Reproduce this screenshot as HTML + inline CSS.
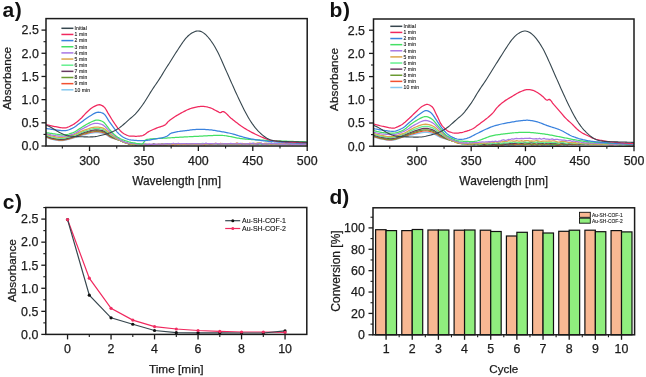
<!DOCTYPE html>
<html><head><meta charset="utf-8"><style>
html,body{margin:0;padding:0;background:#fff;}
svg{display:block;font-family:"Liberation Sans", sans-serif;filter:blur(0.3px);}
</style></head><body>
<svg width="646" height="377" viewBox="0 0 646 377">
<rect width="646" height="377" fill="#fff"/>
<clipPath id="clipa"><rect x="46.0" y="18.6" width="261.2" height="127.4"/></clipPath>
<g clip-path="url(#clipa)">
<path d="M46.00,137.28 L47.63,137.90 L49.27,138.54 L50.90,139.09 L52.53,139.50 L54.16,139.83 L55.80,140.12 L57.43,140.37 L59.06,140.56 L60.69,140.65 L62.33,140.61 L63.96,140.44 L65.59,140.14 L67.22,139.76 L68.86,139.32 L70.49,138.86 L72.12,138.41 L73.75,137.98 L75.39,137.52 L77.02,137.02 L78.65,136.49 L80.28,135.96 L81.91,135.46 L83.55,134.99 L85.18,134.57 L86.81,134.18 L88.44,133.78 L90.08,133.38 L91.71,133.04 L93.34,132.77 L94.97,132.61 L96.61,132.58 L98.24,132.66 L99.87,132.83 L101.50,133.06 L103.14,133.40 L104.77,134.06 L106.40,135.01 L108.03,136.09 L109.67,137.10 L111.30,137.90 L112.93,138.48 L114.56,138.95 L116.20,139.38 L117.83,139.81 L119.46,140.28 L121.09,140.84 L122.73,141.52 L124.36,142.24 L125.99,142.90 L127.62,143.43 L129.26,143.99 L130.89,144.40 L132.52,144.15 L134.16,144.05 L135.79,144.72 L137.42,144.62 L139.05,144.10 L140.69,144.49 L142.32,144.95 L143.95,144.36 L145.58,144.69 L147.22,144.41 L148.85,144.77 L150.48,144.74 L152.11,144.78 L153.75,144.99 L155.38,144.44 L157.01,144.59 L158.64,144.64 L160.28,144.91 L161.91,144.58 L163.54,143.98 L165.17,144.87 L166.81,144.53 L168.44,144.64 L170.07,144.40 L171.70,144.46 L173.34,144.35 L174.97,144.30 L176.60,143.77 L178.23,144.00 L179.87,144.47 L181.50,144.30 L183.13,144.45 L184.76,144.62 L186.40,144.03 L188.03,144.12 L189.66,144.56 L191.29,144.16 L192.93,144.36 L194.56,144.64 L196.19,143.91 L197.82,143.74 L199.46,144.04 L201.09,144.51 L202.72,143.75 L204.35,144.39 L205.99,143.97 L207.62,144.31 L209.25,144.38 L210.88,144.19 L212.52,143.96 L214.15,143.92 L215.78,144.11 L217.41,143.91 L219.05,144.16 L220.68,144.05 L222.31,143.72 L223.94,143.97 L225.58,144.43 L227.21,144.33 L228.84,143.62 L230.47,144.49 L232.11,143.90 L233.74,144.01 L235.37,143.83 L237.00,143.94 L238.64,144.10 L240.27,143.22 L241.90,143.91 L243.53,144.05 L245.17,143.73 L246.80,144.29 L248.43,143.58 L250.06,144.09 L251.70,143.49 L253.33,143.20 L254.96,144.03 L256.59,143.75 L258.23,143.72 L259.86,143.57 L261.49,143.80 L263.12,144.21 L264.75,144.32 L266.39,143.29 L268.02,143.56 L269.65,143.72 L271.28,143.33 L272.92,143.62 L274.55,143.43 L276.18,144.11 L277.81,143.80 L279.45,143.46 L281.08,143.35 L282.71,143.73 L284.35,143.38 L285.98,144.00 L287.61,143.94 L289.24,144.23 L290.88,144.39 L292.51,143.79 L294.14,144.05 L295.77,144.09 L297.40,144.12 L299.04,144.23 L300.67,143.54 L302.30,143.90 L303.94,143.80 L305.57,144.17 L307.20,144.11" fill="none" stroke="#86c8ee" stroke-width="1.25" stroke-linejoin="round"/>
<path d="M46.00,136.82 L47.63,137.43 L49.27,138.08 L50.90,138.62 L52.53,139.03 L54.16,139.36 L55.80,139.66 L57.43,139.91 L59.06,140.09 L60.69,140.18 L62.33,140.15 L63.96,139.98 L65.59,139.69 L67.22,139.31 L68.86,138.87 L70.49,138.41 L72.12,137.95 L73.75,137.50 L75.39,137.02 L77.02,136.47 L78.65,135.90 L80.28,135.31 L81.91,134.75 L83.55,134.24 L85.18,133.79 L86.81,133.36 L88.44,132.93 L90.08,132.51 L91.71,132.14 L93.34,131.86 L94.97,131.68 L96.61,131.65 L98.24,131.74 L99.87,131.92 L101.50,132.17 L103.14,132.52 L104.77,133.22 L106.40,134.22 L108.03,135.36 L109.67,136.46 L111.30,137.35 L112.93,138.03 L114.56,138.62 L116.20,139.16 L117.83,139.70 L119.46,140.25 L121.09,140.87 L122.73,141.57 L124.36,142.28 L125.99,142.93 L127.62,143.43 L129.26,143.84 L130.89,144.17 L132.52,143.94 L134.16,144.35 L135.79,144.74 L137.42,144.40 L139.05,144.27 L140.69,144.75 L142.32,144.56 L143.95,144.69 L145.58,144.85 L147.22,144.66 L148.85,144.39 L150.48,144.69 L152.11,145.04 L153.75,144.96 L155.38,144.67 L157.01,144.74 L158.64,144.45 L160.28,144.45 L161.91,144.64 L163.54,144.38 L165.17,144.62 L166.81,144.33 L168.44,144.12 L170.07,144.14 L171.70,144.78 L173.34,144.81 L174.97,144.33 L176.60,144.59 L178.23,144.18 L179.87,144.29 L181.50,144.32 L183.13,144.45 L184.76,144.21 L186.40,144.14 L188.03,144.55 L189.66,144.42 L191.29,143.88 L192.93,144.45 L194.56,143.97 L196.19,144.16 L197.82,144.28 L199.46,143.85 L201.09,144.23 L202.72,144.41 L204.35,144.86 L205.99,144.03 L207.62,143.86 L209.25,144.13 L210.88,144.03 L212.52,144.04 L214.15,143.65 L215.78,143.35 L217.41,144.35 L219.05,144.39 L220.68,143.38 L222.31,143.95 L223.94,143.89 L225.58,143.71 L227.21,143.78 L228.84,143.99 L230.47,144.04 L232.11,143.95 L233.74,144.08 L235.37,143.62 L237.00,143.17 L238.64,143.93 L240.27,143.78 L241.90,144.09 L243.53,144.03 L245.17,143.94 L246.80,143.97 L248.43,143.61 L250.06,143.33 L251.70,143.64 L253.33,143.69 L254.96,143.26 L256.59,143.98 L258.23,143.75 L259.86,143.37 L261.49,143.91 L263.12,143.93 L264.75,143.33 L266.39,143.29 L268.02,143.92 L269.65,143.82 L271.28,144.03 L272.92,143.61 L274.55,143.57 L276.18,143.87 L277.81,143.57 L279.45,143.50 L281.08,143.48 L282.71,143.37 L284.35,144.30 L285.98,143.52 L287.61,144.03 L289.24,144.16 L290.88,143.99 L292.51,143.53 L294.14,144.35 L295.77,144.22 L297.40,143.89 L299.04,144.31 L300.67,144.04 L302.30,144.17 L303.94,144.23 L305.57,143.71 L307.20,143.84" fill="none" stroke="#f25030" stroke-width="1.25" stroke-linejoin="round"/>
<path d="M46.00,136.36 L47.63,136.97 L49.27,137.62 L50.90,138.16 L52.53,138.57 L54.16,138.90 L55.80,139.20 L57.43,139.45 L59.06,139.63 L60.69,139.72 L62.33,139.69 L63.96,139.52 L65.59,139.23 L67.22,138.86 L68.86,138.42 L70.49,137.96 L72.12,137.49 L73.75,137.03 L75.39,136.52 L77.02,135.93 L78.65,135.30 L80.28,134.67 L81.91,134.05 L83.55,133.49 L85.18,133.00 L86.81,132.55 L88.44,132.08 L90.08,131.64 L91.71,131.25 L93.34,130.94 L94.97,130.76 L96.61,130.73 L98.24,130.82 L99.87,131.01 L101.50,131.28 L103.14,131.65 L104.77,132.38 L106.40,133.43 L108.03,134.64 L109.67,135.81 L111.30,136.79 L112.93,137.58 L114.56,138.29 L116.20,138.95 L117.83,139.59 L119.46,140.23 L121.09,140.89 L122.73,141.60 L124.36,142.31 L125.99,142.94 L127.62,143.44 L129.26,144.17 L130.89,143.69 L132.52,144.88 L134.16,144.40 L135.79,144.58 L137.42,144.33 L139.05,144.29 L140.69,144.66 L142.32,144.50 L143.95,144.64 L145.58,144.27 L147.22,144.41 L148.85,144.88 L150.48,144.88 L152.11,144.68 L153.75,144.22 L155.38,144.72 L157.01,144.55 L158.64,144.50 L160.28,144.91 L161.91,143.87 L163.54,144.67 L165.17,144.48 L166.81,144.20 L168.44,144.06 L170.07,144.49 L171.70,143.82 L173.34,144.56 L174.97,143.84 L176.60,144.34 L178.23,144.01 L179.87,144.42 L181.50,144.69 L183.13,144.49 L184.76,144.29 L186.40,144.22 L188.03,144.29 L189.66,143.80 L191.29,144.16 L192.93,144.38 L194.56,144.27 L196.19,143.95 L197.82,144.38 L199.46,144.19 L201.09,144.10 L202.72,144.28 L204.35,144.05 L205.99,144.10 L207.62,144.50 L209.25,143.69 L210.88,144.27 L212.52,144.36 L214.15,143.99 L215.78,144.08 L217.41,143.86 L219.05,144.14 L220.68,143.79 L222.31,143.49 L223.94,144.58 L225.58,144.13 L227.21,143.86 L228.84,143.94 L230.47,143.78 L232.11,143.99 L233.74,144.10 L235.37,144.05 L237.00,144.18 L238.64,143.99 L240.27,143.98 L241.90,144.01 L243.53,143.54 L245.17,143.75 L246.80,143.50 L248.43,143.77 L250.06,144.20 L251.70,143.49 L253.33,143.91 L254.96,143.92 L256.59,143.56 L258.23,143.43 L259.86,143.63 L261.49,143.35 L263.12,144.46 L264.75,143.70 L266.39,143.76 L268.02,143.34 L269.65,143.72 L271.28,143.63 L272.92,143.63 L274.55,144.08 L276.18,143.52 L277.81,143.99 L279.45,144.17 L281.08,143.49 L282.71,143.31 L284.35,143.32 L285.98,143.76 L287.61,143.67 L289.24,143.50 L290.88,143.59 L292.51,143.71 L294.14,144.12 L295.77,143.79 L297.40,143.84 L299.04,143.50 L300.67,143.94 L302.30,144.30 L303.94,143.72 L305.57,144.21 L307.20,144.19" fill="none" stroke="#6a9a32" stroke-width="1.25" stroke-linejoin="round"/>
<path d="M46.00,135.89 L47.63,136.51 L49.27,137.15 L50.90,137.69 L52.53,138.11 L54.16,138.44 L55.80,138.73 L57.43,138.98 L59.06,139.17 L60.69,139.26 L62.33,139.22 L63.96,139.06 L65.59,138.77 L67.22,138.40 L68.86,137.97 L70.49,137.51 L72.12,137.03 L73.75,136.56 L75.39,136.02 L77.02,135.39 L78.65,134.71 L80.28,134.02 L81.91,133.35 L83.55,132.74 L85.18,132.21 L86.81,131.73 L88.44,131.24 L90.08,130.77 L91.71,130.35 L93.34,130.03 L94.97,129.84 L96.61,129.80 L98.24,129.90 L99.87,130.10 L101.50,130.38 L103.14,130.78 L104.77,131.54 L106.40,132.64 L108.03,133.92 L109.67,135.17 L111.30,136.24 L112.93,137.13 L114.56,137.96 L116.20,138.75 L117.83,139.49 L119.46,140.21 L121.09,140.91 L122.73,141.64 L124.36,142.34 L125.99,142.96 L127.62,143.44 L129.26,144.12 L130.89,144.03 L132.52,144.04 L134.16,144.29 L135.79,144.87 L137.42,144.71 L139.05,144.47 L140.69,144.83 L142.32,144.61 L143.95,144.68 L145.58,144.83 L147.22,145.07 L148.85,144.67 L150.48,145.21 L152.11,144.64 L153.75,144.16 L155.38,144.39 L157.01,144.55 L158.64,144.56 L160.28,144.58 L161.91,144.31 L163.54,144.62 L165.17,144.68 L166.81,144.43 L168.44,144.24 L170.07,144.63 L171.70,144.92 L173.34,144.43 L174.97,144.35 L176.60,144.17 L178.23,144.13 L179.87,144.43 L181.50,144.20 L183.13,143.73 L184.76,144.42 L186.40,144.15 L188.03,144.12 L189.66,144.46 L191.29,144.16 L192.93,144.13 L194.56,144.05 L196.19,144.27 L197.82,144.12 L199.46,143.81 L201.09,144.70 L202.72,144.10 L204.35,143.80 L205.99,144.00 L207.62,143.92 L209.25,144.15 L210.88,144.08 L212.52,143.68 L214.15,144.08 L215.78,143.87 L217.41,144.33 L219.05,144.09 L220.68,144.50 L222.31,143.94 L223.94,144.16 L225.58,144.12 L227.21,144.16 L228.84,143.52 L230.47,143.60 L232.11,143.84 L233.74,144.06 L235.37,143.82 L237.00,144.27 L238.64,143.82 L240.27,143.98 L241.90,143.77 L243.53,143.52 L245.17,143.89 L246.80,143.56 L248.43,143.79 L250.06,144.19 L251.70,143.66 L253.33,143.53 L254.96,143.70 L256.59,143.88 L258.23,143.89 L259.86,143.72 L261.49,143.92 L263.12,144.44 L264.75,143.99 L266.39,144.46 L268.02,143.70 L269.65,143.80 L271.28,143.39 L272.92,143.94 L274.55,143.78 L276.18,143.88 L277.81,143.59 L279.45,143.43 L281.08,143.85 L282.71,143.84 L284.35,143.49 L285.98,143.81 L287.61,143.92 L289.24,144.08 L290.88,143.85 L292.51,144.04 L294.14,143.80 L295.77,144.01 L297.40,144.18 L299.04,143.95 L300.67,144.40 L302.30,144.31 L303.94,143.69 L305.57,143.89 L307.20,144.35" fill="none" stroke="#683a60" stroke-width="1.25" stroke-linejoin="round"/>
<path d="M46.00,134.97 L47.63,135.58 L49.27,136.22 L50.90,136.77 L52.53,137.18 L54.16,137.51 L55.80,137.80 L57.43,138.06 L59.06,138.24 L60.69,138.33 L62.33,138.30 L63.96,138.13 L65.59,137.85 L67.22,137.48 L68.86,137.05 L70.49,136.59 L72.12,136.11 L73.75,135.63 L75.39,135.06 L77.02,134.41 L78.65,133.69 L80.28,132.96 L81.91,132.24 L83.55,131.59 L85.18,131.03 L86.81,130.51 L88.44,129.98 L90.08,129.46 L91.71,129.01 L93.34,128.66 L94.97,128.45 L96.61,128.41 L98.24,128.52 L99.87,128.74 L101.50,129.04 L103.14,129.47 L104.77,130.29 L106.40,131.47 L108.03,132.84 L109.67,134.21 L111.30,135.41 L112.93,136.46 L114.56,137.47 L116.20,138.44 L117.83,139.35 L119.46,140.17 L121.09,140.93 L122.73,141.68 L124.36,142.37 L125.99,142.98 L127.62,143.45 L129.26,143.52 L130.89,144.02 L132.52,144.19 L134.16,144.13 L135.79,144.08 L137.42,144.93 L139.05,144.59 L140.69,144.83 L142.32,144.48 L143.95,144.66 L145.58,144.40 L147.22,144.69 L148.85,144.65 L150.48,144.71 L152.11,144.56 L153.75,144.66 L155.38,144.50 L157.01,144.77 L158.64,144.22 L160.28,144.45 L161.91,144.38 L163.54,144.34 L165.17,144.24 L166.81,144.57 L168.44,144.33 L170.07,143.89 L171.70,144.42 L173.34,144.23 L174.97,144.43 L176.60,144.34 L178.23,144.56 L179.87,144.48 L181.50,144.15 L183.13,143.79 L184.76,144.15 L186.40,144.51 L188.03,144.31 L189.66,144.05 L191.29,144.24 L192.93,144.39 L194.56,144.22 L196.19,144.04 L197.82,144.08 L199.46,143.75 L201.09,143.64 L202.72,143.41 L204.35,143.61 L205.99,144.04 L207.62,143.91 L209.25,143.60 L210.88,143.60 L212.52,143.56 L214.15,143.52 L215.78,144.57 L217.41,143.69 L219.05,143.77 L220.68,143.96 L222.31,143.78 L223.94,144.04 L225.58,144.10 L227.21,143.77 L228.84,144.23 L230.47,143.74 L232.11,143.78 L233.74,143.59 L235.37,143.76 L237.00,144.08 L238.64,143.34 L240.27,143.94 L241.90,143.74 L243.53,143.95 L245.17,143.73 L246.80,143.52 L248.43,143.64 L250.06,143.60 L251.70,144.37 L253.33,143.28 L254.96,143.73 L256.59,143.66 L258.23,143.20 L259.86,144.28 L261.49,143.77 L263.12,143.63 L264.75,143.80 L266.39,143.79 L268.02,143.37 L269.65,144.25 L271.28,143.05 L272.92,143.88 L274.55,143.64 L276.18,143.98 L277.81,143.70 L279.45,143.43 L281.08,143.93 L282.71,143.60 L284.35,144.31 L285.98,144.31 L287.61,143.82 L289.24,143.16 L290.88,144.06 L292.51,144.20 L294.14,144.15 L295.77,144.37 L297.40,143.82 L299.04,144.50 L300.67,143.63 L302.30,144.04 L303.94,144.19 L305.57,143.81 L307.20,144.53" fill="none" stroke="#66f090" stroke-width="1.25" stroke-linejoin="round"/>
<path d="M46.00,134.04 L47.63,134.65 L49.27,135.30 L50.90,135.84 L52.53,136.25 L54.16,136.58 L55.80,136.88 L57.43,137.13 L59.06,137.31 L60.69,137.40 L62.33,137.37 L63.96,137.21 L65.59,136.93 L67.22,136.56 L68.86,136.13 L70.49,135.67 L72.12,135.19 L73.75,134.70 L75.39,134.11 L77.02,133.43 L78.65,132.67 L80.28,131.90 L81.91,131.14 L83.55,130.45 L85.18,129.85 L86.81,129.29 L88.44,128.72 L90.08,128.16 L91.71,127.67 L93.34,127.29 L94.97,127.07 L96.61,127.02 L98.24,127.14 L99.87,127.38 L101.50,127.71 L103.14,128.17 L104.77,129.03 L106.40,130.29 L108.03,131.76 L109.67,133.25 L111.30,134.58 L112.93,135.79 L114.56,136.98 L116.20,138.14 L117.83,139.21 L119.46,140.15 L121.09,140.95 L122.73,141.71 L124.36,142.40 L125.99,142.99 L127.62,143.45 L129.26,143.90 L130.89,144.05 L132.52,143.95 L134.16,144.37 L135.79,144.69 L137.42,144.32 L139.05,144.81 L140.69,145.07 L142.32,144.02 L143.95,144.84 L145.58,144.26 L147.22,144.35 L148.85,144.84 L150.48,144.31 L152.11,144.54 L153.75,144.54 L155.38,144.78 L157.01,144.32 L158.64,144.21 L160.28,144.82 L161.91,144.06 L163.54,144.30 L165.17,145.12 L166.81,145.18 L168.44,144.49 L170.07,144.54 L171.70,144.40 L173.34,144.54 L174.97,144.09 L176.60,144.61 L178.23,144.47 L179.87,144.09 L181.50,144.40 L183.13,144.50 L184.76,144.35 L186.40,144.30 L188.03,144.29 L189.66,144.48 L191.29,144.24 L192.93,144.18 L194.56,144.31 L196.19,143.98 L197.82,144.36 L199.46,144.39 L201.09,144.09 L202.72,144.61 L204.35,144.18 L205.99,144.20 L207.62,144.25 L209.25,143.66 L210.88,143.96 L212.52,144.14 L214.15,144.07 L215.78,144.01 L217.41,143.67 L219.05,143.71 L220.68,143.97 L222.31,144.07 L223.94,143.74 L225.58,144.28 L227.21,143.54 L228.84,143.82 L230.47,143.96 L232.11,143.70 L233.74,143.77 L235.37,144.24 L237.00,143.23 L238.64,144.19 L240.27,144.11 L241.90,143.41 L243.53,143.61 L245.17,143.94 L246.80,144.02 L248.43,143.81 L250.06,143.48 L251.70,144.08 L253.33,143.47 L254.96,144.00 L256.59,143.21 L258.23,143.19 L259.86,142.96 L261.49,143.39 L263.12,143.57 L264.75,143.96 L266.39,143.76 L268.02,143.70 L269.65,143.83 L271.28,143.53 L272.92,144.00 L274.55,144.06 L276.18,143.90 L277.81,143.69 L279.45,143.77 L281.08,143.47 L282.71,143.80 L284.35,143.59 L285.98,144.27 L287.61,143.74 L289.24,143.93 L290.88,143.94 L292.51,143.57 L294.14,143.86 L295.77,143.93 L297.40,144.06 L299.04,144.12 L300.67,144.07 L302.30,144.28 L303.94,143.72 L305.57,144.68 L307.20,143.91" fill="none" stroke="#dca64c" stroke-width="1.25" stroke-linejoin="round"/>
<path d="M46.00,133.54 L47.63,133.95 L49.27,134.39 L50.90,134.79 L52.53,135.13 L54.16,135.43 L55.80,135.67 L57.43,135.85 L59.06,136.02 L60.69,136.15 L62.33,136.23 L63.96,136.23 L65.59,136.08 L67.22,135.77 L68.86,135.35 L70.49,134.85 L72.12,134.31 L73.75,133.73 L75.39,133.00 L77.02,132.10 L78.65,131.10 L80.28,130.07 L81.91,129.08 L83.55,128.19 L85.18,127.39 L86.81,126.57 L88.44,125.73 L90.08,124.93 L91.71,124.24 L93.34,123.70 L94.97,123.39 L96.61,123.33 L98.24,123.49 L99.87,123.80 L101.50,124.26 L103.14,125.08 L104.77,126.39 L106.40,128.00 L108.03,129.65 L109.67,131.20 L111.30,132.76 L112.93,134.36 L114.56,135.89 L116.20,137.24 L117.83,138.38 L119.46,139.45 L121.09,140.44 L122.73,141.29 L124.36,141.95 L125.99,142.41 L127.62,142.78 L129.26,143.24 L130.89,142.99 L132.52,143.30 L134.16,143.74 L135.79,144.06 L137.42,144.17 L139.05,143.91 L140.69,144.13 L142.32,144.23 L143.95,143.74 L145.58,144.19 L147.22,144.76 L148.85,143.94 L150.48,144.43 L152.11,144.00 L153.75,144.56 L155.38,144.21 L157.01,144.11 L158.64,144.23 L160.28,144.09 L161.91,144.22 L163.54,144.09 L165.17,143.61 L166.81,143.87 L168.44,143.59 L170.07,144.13 L171.70,143.92 L173.34,143.23 L174.97,143.92 L176.60,143.79 L178.23,143.22 L179.87,143.86 L181.50,143.92 L183.13,143.58 L184.76,143.64 L186.40,143.86 L188.03,143.65 L189.66,143.81 L191.29,143.75 L192.93,143.88 L194.56,143.73 L196.19,143.70 L197.82,143.99 L199.46,143.81 L201.09,144.12 L202.72,143.65 L204.35,143.78 L205.99,143.19 L207.62,143.93 L209.25,143.58 L210.88,143.66 L212.52,143.68 L214.15,144.27 L215.78,143.40 L217.41,143.69 L219.05,143.97 L220.68,143.88 L222.31,143.96 L223.94,143.86 L225.58,143.57 L227.21,143.86 L228.84,143.76 L230.47,143.47 L232.11,143.62 L233.74,143.76 L235.37,143.76 L237.00,143.83 L238.64,143.69 L240.27,143.55 L241.90,143.55 L243.53,144.21 L245.17,143.98 L246.80,143.97 L248.43,143.70 L250.06,143.79 L251.70,143.56 L253.33,143.47 L254.96,144.08 L256.59,143.96 L258.23,143.64 L259.86,143.48 L261.49,143.40 L263.12,144.20 L264.75,144.01 L266.39,144.00 L268.02,143.99 L269.65,143.12 L271.28,143.60 L272.92,143.72 L274.55,144.00 L276.18,143.37 L277.81,143.94 L279.45,144.05 L281.08,144.01 L282.71,143.90 L284.35,144.30 L285.98,143.87 L287.61,143.98 L289.24,144.18 L290.88,143.61 L292.51,144.71 L294.14,144.21 L295.77,144.02 L297.40,144.05 L299.04,144.04 L300.67,144.55 L302.30,144.37 L303.94,144.01 L305.57,144.11 L307.20,143.89" fill="none" stroke="#a877e4" stroke-width="1.25" stroke-linejoin="round"/>
<path d="M46.00,132.61 L47.09,132.76 L48.18,132.95 L49.27,133.13 L50.35,133.31 L51.44,133.48 L52.53,133.65 L53.62,133.80 L54.71,133.95 L55.80,134.10 L56.88,134.25 L57.97,134.40 L59.06,134.54 L60.15,134.67 L61.24,134.77 L62.33,134.83 L63.41,134.85 L64.50,134.81 L65.59,134.69 L66.68,134.51 L67.77,134.27 L68.86,133.98 L69.94,133.65 L71.03,133.30 L72.12,132.93 L73.21,132.53 L74.30,132.06 L75.39,131.49 L76.47,130.82 L77.56,130.10 L78.65,129.35 L79.74,128.62 L80.83,127.93 L81.91,127.25 L83.00,126.57 L84.09,125.89 L85.18,125.21 L86.27,124.56 L87.36,123.94 L88.44,123.36 L89.53,122.82 L90.62,122.30 L91.71,121.78 L92.80,121.26 L93.89,120.80 L94.97,120.43 L96.06,120.18 L97.15,120.09 L98.24,120.15 L99.33,120.35 L100.42,120.64 L101.50,121.02 L102.59,121.51 L103.68,122.24 L104.77,123.30 L105.86,124.61 L106.95,126.05 L108.03,127.48 L109.12,128.82 L110.21,130.09 L111.30,131.35 L112.39,132.60 L113.48,133.78 L114.56,134.84 L115.65,135.76 L116.74,136.55 L117.83,137.26 L118.92,137.90 L120.01,138.49 L121.09,139.02 L122.18,139.50 L123.27,139.94 L124.36,140.35 L125.45,140.73 L126.54,141.09 L127.62,141.43 L128.71,141.74 L129.80,142.02 L130.89,142.29 L131.98,142.53 L133.07,142.76 L134.16,142.98 L135.24,143.18 L136.33,143.37 L137.42,143.53 L138.51,143.68 L139.60,143.82 L140.69,143.95 L141.77,144.01 L142.86,143.55 L143.95,142.03 L145.04,140.39 L146.13,139.67 L147.22,139.42 L148.30,139.25 L149.39,139.10 L150.48,138.96 L151.57,138.85 L152.66,138.76 L153.75,138.68 L154.83,138.61 L155.92,138.56 L157.01,138.51 L158.10,138.46 L159.19,138.42 L160.28,138.38 L161.36,138.34 L162.45,138.30 L163.54,138.25 L164.63,138.19 L165.72,138.12 L166.81,138.04 L167.89,137.97 L168.98,137.90 L170.07,137.82 L171.16,137.75 L172.25,137.68 L173.34,137.62 L174.42,137.55 L175.51,137.48 L176.60,137.42 L177.69,137.35 L178.78,137.29 L179.87,137.23 L180.95,137.16 L182.04,137.10 L183.13,137.04 L184.22,136.98 L185.31,136.93 L186.40,136.87 L187.48,136.81 L188.57,136.75 L189.66,136.70 L190.75,136.64 L191.84,136.59 L192.93,136.53 L194.01,136.48 L195.10,136.42 L196.19,136.37 L197.28,136.32 L198.37,136.26 L199.46,136.21 L200.54,136.15 L201.63,136.09 L202.72,136.03 L203.81,135.97 L204.90,135.91 L205.99,135.85 L207.07,135.79 L208.16,135.73 L209.25,135.67 L210.34,135.62 L211.43,135.56 L212.52,135.52 L213.60,135.47 L214.69,135.43 L215.78,135.40 L216.87,135.38 L217.96,135.36 L219.05,135.34 L220.13,135.34 L221.22,135.37 L222.31,135.42 L223.40,135.50 L224.49,135.61 L225.58,135.75 L226.66,135.91 L227.75,136.09 L228.84,136.28 L229.93,136.49 L231.02,136.71 L232.11,136.93 L233.19,137.15 L234.28,137.38 L235.37,137.60 L236.46,137.82 L237.55,138.02 L238.64,138.22 L239.72,138.40 L240.81,138.56 L241.90,138.69 L242.99,138.81 L244.08,138.91 L245.17,139.01 L246.25,139.10 L247.34,139.19 L248.43,139.27 L249.52,139.35 L250.61,139.43 L251.70,139.51 L252.78,139.59 L253.87,139.66 L254.96,139.73 L256.05,139.80 L257.14,139.86 L258.23,139.93 L259.31,139.99 L260.40,140.05 L261.49,140.11 L262.58,140.17 L263.67,140.22 L264.75,140.28 L265.84,140.33 L266.93,140.39 L268.02,140.44 L269.11,140.49 L270.20,140.54 L271.28,140.59 L272.37,140.64 L273.46,140.69 L274.55,140.74 L275.64,140.78 L276.73,140.83 L277.81,140.88 L278.90,140.93 L279.99,140.97 L281.08,141.02 L282.17,141.06 L283.26,141.11 L284.35,141.15 L285.43,141.19 L286.52,141.23 L287.61,141.28 L288.70,141.32 L289.79,141.35 L290.88,141.39 L291.96,141.43 L293.05,141.47 L294.14,141.50 L295.23,141.53 L296.32,141.57 L297.40,141.60 L298.49,141.63 L299.58,141.66 L300.67,141.69 L301.76,141.71 L302.85,141.74 L303.94,141.76 L305.02,141.79 L306.11,141.81 L307.20,141.82" fill="none" stroke="#44e064" stroke-width="1.25" stroke-linejoin="round"/>
<path d="M46.00,128.44 L47.09,128.59 L48.18,128.78 L49.27,128.97 L50.35,129.15 L51.44,129.32 L52.53,129.48 L53.62,129.63 L54.71,129.77 L55.80,129.91 L56.88,130.05 L57.97,130.19 L59.06,130.32 L60.15,130.44 L61.24,130.54 L62.33,130.62 L63.41,130.67 L64.50,130.67 L65.59,130.59 L66.68,130.39 L67.77,130.10 L68.86,129.72 L69.94,129.30 L71.03,128.84 L72.12,128.36 L73.21,127.82 L74.30,127.19 L75.39,126.46 L76.47,125.68 L77.56,124.87 L78.65,124.07 L79.74,123.29 L80.83,122.51 L81.91,121.71 L83.00,120.89 L84.09,120.07 L85.18,119.26 L86.27,118.47 L87.36,117.71 L88.44,117.00 L89.53,116.33 L90.62,115.66 L91.71,114.98 L92.80,114.29 L93.89,113.65 L94.97,113.08 L96.06,112.63 L97.15,112.33 L98.24,112.21 L99.33,112.27 L100.42,112.45 L101.50,112.75 L102.59,113.13 L103.68,113.68 L104.77,114.61 L105.86,116.04 L106.95,117.80 L108.03,119.65 L109.12,121.37 L110.21,122.95 L111.30,124.48 L112.39,125.97 L113.48,127.43 L114.56,128.84 L115.65,130.23 L116.74,131.57 L117.83,132.81 L118.92,133.90 L120.01,134.85 L121.09,135.71 L122.18,136.50 L123.27,137.20 L124.36,137.81 L125.45,138.33 L126.54,138.77 L127.62,139.17 L128.71,139.51 L129.80,139.77 L130.89,139.95 L131.98,140.08 L133.07,140.19 L134.16,140.28 L135.24,140.37 L136.33,140.44 L137.42,140.51 L138.51,140.56 L139.60,140.61 L140.69,140.64 L141.77,140.66 L142.86,140.66 L143.95,140.63 L145.04,140.57 L146.13,140.48 L147.22,140.35 L148.30,140.20 L149.39,140.03 L150.48,139.84 L151.57,139.64 L152.66,139.44 L153.75,139.24 L154.83,139.05 L155.92,138.86 L157.01,138.68 L158.10,138.50 L159.19,138.31 L160.28,138.10 L161.36,137.88 L162.45,137.63 L163.54,137.35 L164.63,137.03 L165.72,136.66 L166.81,136.24 L167.89,135.64 L168.98,134.73 L170.07,133.80 L171.16,133.21 L172.25,132.85 L173.34,132.54 L174.42,132.27 L175.51,132.04 L176.60,131.84 L177.69,131.66 L178.78,131.50 L179.87,131.35 L180.95,131.22 L182.04,131.09 L183.13,130.96 L184.22,130.83 L185.31,130.70 L186.40,130.56 L187.48,130.41 L188.57,130.27 L189.66,130.12 L190.75,129.98 L191.84,129.85 L192.93,129.72 L194.01,129.61 L195.10,129.51 L196.19,129.43 L197.28,129.37 L198.37,129.33 L199.46,129.32 L200.54,129.32 L201.63,129.35 L202.72,129.38 L203.81,129.43 L204.90,129.49 L205.99,129.55 L207.07,129.62 L208.16,129.70 L209.25,129.78 L210.34,129.87 L211.43,129.99 L212.52,130.13 L213.60,130.29 L214.69,130.46 L215.78,130.64 L216.87,130.83 L217.96,131.02 L219.05,131.21 L220.13,131.40 L221.22,131.58 L222.31,131.77 L223.40,131.96 L224.49,132.15 L225.58,132.35 L226.66,132.56 L227.75,132.78 L228.84,133.00 L229.93,133.24 L231.02,133.49 L232.11,133.76 L233.19,134.06 L234.28,134.38 L235.37,134.72 L236.46,135.06 L237.55,135.41 L238.64,135.76 L239.72,136.10 L240.81,136.42 L241.90,136.72 L242.99,137.01 L244.08,137.30 L245.17,137.57 L246.25,137.84 L247.34,138.10 L248.43,138.35 L249.52,138.58 L250.61,138.80 L251.70,139.02 L252.78,139.22 L253.87,139.42 L254.96,139.60 L256.05,139.78 L257.14,139.94 L258.23,140.09 L259.31,140.24 L260.40,140.38 L261.49,140.52 L262.58,140.66 L263.67,140.79 L264.75,140.92 L265.84,141.05 L266.93,141.17 L268.02,141.28 L269.11,141.39 L270.20,141.49 L271.28,141.58 L272.37,141.67 L273.46,141.75 L274.55,141.83 L275.64,141.90 L276.73,141.97 L277.81,142.04 L278.90,142.10 L279.99,142.17 L281.08,142.24 L282.17,142.31 L283.26,142.37 L284.35,142.43 L285.43,142.50 L286.52,142.56 L287.61,142.62 L288.70,142.67 L289.79,142.73 L290.88,142.78 L291.96,142.83 L293.05,142.88 L294.14,142.93 L295.23,142.97 L296.32,143.01 L297.40,143.05 L298.49,143.08 L299.58,143.11 L300.67,143.14 L301.76,143.16 L302.85,143.18 L303.94,143.20 L305.02,143.21 L306.11,143.21 L307.20,143.22" fill="none" stroke="#3a82de" stroke-width="1.25" stroke-linejoin="round"/>
<path d="M46.00,124.68 L47.09,124.94 L48.18,125.20 L49.27,125.44 L50.35,125.68 L51.44,125.91 L52.53,126.13 L53.62,126.34 L54.71,126.53 L55.80,126.72 L56.88,126.93 L57.97,127.14 L59.06,127.34 L60.15,127.52 L61.24,127.68 L62.33,127.81 L63.41,127.89 L64.50,127.92 L65.59,127.83 L66.68,127.58 L67.77,127.21 L68.86,126.75 L69.94,126.23 L71.03,125.68 L72.12,125.14 L73.21,124.55 L74.30,123.87 L75.39,123.11 L76.47,122.29 L77.56,121.41 L78.65,120.50 L79.74,119.57 L80.83,118.57 L81.91,117.46 L83.00,116.27 L84.09,115.06 L85.18,113.86 L86.27,112.73 L87.36,111.69 L88.44,110.72 L89.53,109.74 L90.62,108.80 L91.71,107.94 L92.80,107.19 L93.89,106.59 L94.97,106.07 L96.06,105.57 L97.15,105.15 L98.24,104.85 L99.33,104.74 L100.42,104.90 L101.50,105.31 L102.59,105.90 L103.68,106.60 L104.77,107.65 L105.86,109.23 L106.95,111.12 L108.03,113.09 L109.12,114.94 L110.21,116.68 L111.30,118.47 L112.39,120.22 L113.48,121.89 L114.56,123.51 L115.65,125.11 L116.74,126.65 L117.83,128.06 L118.92,129.31 L120.01,130.43 L121.09,131.49 L122.18,132.45 L123.27,133.28 L124.36,133.95 L125.45,134.52 L126.54,135.06 L127.62,135.52 L128.71,135.86 L129.80,136.03 L130.89,136.10 L131.98,136.16 L133.07,136.20 L134.16,136.24 L135.24,136.26 L136.33,136.26 L137.42,136.24 L138.51,136.18 L139.60,136.08 L140.69,135.95 L141.77,135.80 L142.86,135.49 L143.95,134.92 L145.04,134.19 L146.13,133.39 L147.22,132.58 L148.30,131.87 L149.39,131.30 L150.48,130.77 L151.57,130.26 L152.66,129.77 L153.75,129.30 L154.83,128.84 L155.92,128.38 L157.01,127.92 L158.10,127.50 L159.19,127.13 L160.28,126.79 L161.36,126.44 L162.45,126.06 L163.54,125.62 L164.63,125.09 L165.72,124.44 L166.81,123.26 L167.89,121.89 L168.98,120.90 L170.07,120.04 L171.16,119.25 L172.25,118.48 L173.34,117.74 L174.42,117.02 L175.51,116.32 L176.60,115.64 L177.69,114.99 L178.78,114.35 L179.87,113.73 L180.95,113.12 L182.04,112.53 L183.13,111.96 L184.22,111.40 L185.31,110.85 L186.40,110.31 L187.48,109.80 L188.57,109.33 L189.66,108.91 L190.75,108.52 L191.84,108.16 L192.93,107.82 L194.01,107.53 L195.10,107.29 L196.19,107.08 L197.28,106.88 L198.37,106.69 L199.46,106.53 L200.54,106.41 L201.63,106.33 L202.72,106.32 L203.81,106.39 L204.90,106.53 L205.99,106.74 L207.07,106.98 L208.16,107.25 L209.25,107.52 L210.34,107.86 L211.43,108.29 L212.52,108.80 L213.60,109.36 L214.69,109.95 L215.78,110.52 L216.87,111.07 L217.96,111.65 L219.05,112.31 L220.13,112.75 L221.22,112.46 L222.31,111.51 L223.40,111.60 L224.49,112.10 L225.58,112.89 L226.66,113.89 L227.75,115.00 L228.84,116.15 L229.93,117.24 L231.02,118.18 L232.11,119.04 L233.19,119.90 L234.28,120.77 L235.37,121.64 L236.46,122.50 L237.55,123.35 L238.64,124.18 L239.72,124.99 L240.81,125.78 L241.90,126.53 L242.99,127.25 L244.08,127.95 L245.17,128.63 L246.25,129.29 L247.34,129.93 L248.43,130.56 L249.52,131.16 L250.61,131.76 L251.70,132.33 L252.78,132.89 L253.87,133.43 L254.96,133.97 L256.05,134.49 L257.14,135.00 L258.23,135.51 L259.31,136.02 L260.40,136.51 L261.49,136.99 L262.58,137.45 L263.67,137.89 L264.75,138.31 L265.84,138.73 L266.93,139.13 L268.02,139.50 L269.11,139.81 L270.20,140.07 L271.28,140.30 L272.37,140.50 L273.46,140.69 L274.55,140.86 L275.64,141.00 L276.73,141.13 L277.81,141.25 L278.90,141.35 L279.99,141.45 L281.08,141.54 L282.17,141.62 L283.26,141.69 L284.35,141.76 L285.43,141.83 L286.52,141.89 L287.61,141.95 L288.70,142.01 L289.79,142.07 L290.88,142.13 L291.96,142.19 L293.05,142.25 L294.14,142.30 L295.23,142.36 L296.32,142.41 L297.40,142.45 L298.49,142.50 L299.58,142.54 L300.67,142.58 L301.76,142.62 L302.85,142.65 L303.94,142.68 L305.02,142.71 L306.11,142.74 L307.20,142.75" fill="none" stroke="#f0285e" stroke-width="1.25" stroke-linejoin="round"/>
<path d="M46.00,125.16 L47.09,125.53 L48.18,126.00 L49.27,126.53 L50.35,127.10 L51.44,127.69 L52.53,128.30 L53.62,128.93 L54.71,129.58 L55.80,130.24 L56.88,130.91 L57.97,131.57 L59.06,132.19 L60.15,132.79 L61.24,133.35 L62.33,133.86 L63.41,134.33 L64.50,134.75 L65.59,135.11 L66.68,135.43 L67.77,135.69 L68.86,135.89 L69.94,136.06 L71.03,136.20 L72.12,136.31 L73.21,136.40 L74.30,136.47 L75.39,136.53 L76.47,136.58 L77.56,136.62 L78.65,136.66 L79.74,136.70 L80.83,136.73 L81.91,136.77 L83.00,136.80 L84.09,136.84 L85.18,136.87 L86.27,136.90 L87.36,136.92 L88.44,136.93 L89.53,136.93 L90.62,136.91 L91.71,136.88 L92.80,136.83 L93.89,136.75 L94.97,136.64 L96.06,136.49 L97.15,136.30 L98.24,136.08 L99.33,135.83 L100.42,135.57 L101.50,135.31 L102.59,135.03 L103.68,134.75 L104.77,134.45 L105.86,134.14 L106.95,133.81 L108.03,133.46 L109.12,133.08 L110.21,132.68 L111.30,132.25 L112.39,131.79 L113.48,131.29 L114.56,130.74 L115.65,130.15 L116.74,129.52 L117.83,128.84 L118.92,128.11 L120.01,127.34 L121.09,126.51 L122.18,125.64 L123.27,124.72 L124.36,123.77 L125.45,122.80 L126.54,121.82 L127.62,120.84 L128.71,119.88 L129.80,118.94 L130.89,118.02 L131.98,117.12 L133.07,116.18 L134.16,115.19 L135.24,114.11 L136.33,112.92 L137.42,111.64 L138.51,110.29 L139.60,108.89 L140.69,107.46 L141.77,106.00 L142.86,104.49 L143.95,102.93 L145.04,101.28 L146.13,99.56 L147.22,97.78 L148.30,95.98 L149.39,94.18 L150.48,92.41 L151.57,90.70 L152.66,89.02 L153.75,87.39 L154.83,85.78 L155.92,84.19 L157.01,82.60 L158.10,81.00 L159.19,79.37 L160.28,77.67 L161.36,75.93 L162.45,74.14 L163.54,72.34 L164.63,70.56 L165.72,68.80 L166.81,67.08 L167.89,65.38 L168.98,63.69 L170.07,61.99 L171.16,60.27 L172.25,58.53 L173.34,56.79 L174.42,55.05 L175.51,53.33 L176.60,51.62 L177.69,49.93 L178.78,48.25 L179.87,46.59 L180.95,44.94 L182.04,43.33 L183.13,41.77 L184.22,40.30 L185.31,38.92 L186.40,37.66 L187.48,36.52 L188.57,35.49 L189.66,34.58 L190.75,33.77 L191.84,33.05 L192.93,32.42 L194.01,31.89 L195.10,31.46 L196.19,31.15 L197.28,30.97 L198.37,30.95 L199.46,31.08 L200.54,31.36 L201.63,31.79 L202.72,32.37 L203.81,33.10 L204.90,33.96 L205.99,34.94 L207.07,36.04 L208.16,37.25 L209.25,38.55 L210.34,39.96 L211.43,41.47 L212.52,43.07 L213.60,44.76 L214.69,46.56 L215.78,48.46 L216.87,50.47 L217.96,52.59 L219.05,54.81 L220.13,57.13 L221.22,59.53 L222.31,61.98 L223.40,64.45 L224.49,66.93 L225.58,69.41 L226.66,71.87 L227.75,74.33 L228.84,76.79 L229.93,79.24 L231.02,81.69 L232.11,84.14 L233.19,86.58 L234.28,89.00 L235.37,91.41 L236.46,93.79 L237.55,96.14 L238.64,98.46 L239.72,100.76 L240.81,103.03 L241.90,105.26 L242.99,107.46 L244.08,109.63 L245.17,111.75 L246.25,113.81 L247.34,115.80 L248.43,117.71 L249.52,119.53 L250.61,121.25 L251.70,122.89 L252.78,124.44 L253.87,125.91 L254.96,127.31 L256.05,128.63 L257.14,129.88 L258.23,131.06 L259.31,132.17 L260.40,133.22 L261.49,134.21 L262.58,135.14 L263.67,136.00 L264.75,136.80 L265.84,137.55 L266.93,138.22 L268.02,138.83 L269.11,139.35 L270.20,139.78 L271.28,140.13 L272.37,140.41 L273.46,140.63 L274.55,140.82 L275.64,140.97 L276.73,141.09 L277.81,141.19 L278.90,141.27 L279.99,141.35 L281.08,141.41 L282.17,141.46 L283.26,141.51 L284.35,141.55 L285.43,141.59 L286.52,141.62 L287.61,141.65 L288.70,141.67 L289.79,141.69 L290.88,141.71 L291.96,141.74 L293.05,141.76 L294.14,141.78 L295.23,141.81 L296.32,141.84 L297.40,141.87 L298.49,141.90 L299.58,141.94 L300.67,141.99 L301.76,142.03 L302.85,142.08 L303.94,142.13 L305.02,142.17 L306.11,142.21 L307.20,142.25" fill="none" stroke="#36464e" stroke-width="1.1" stroke-linejoin="round"/>
</g>
<rect x="46.0" y="18.6" width="261.2" height="127.4" fill="none" stroke="#1b1b1b" stroke-width="1.5"/>
<line x1="41.50" y1="146.00" x2="46.00" y2="146.00" stroke="#1b1b1b" stroke-width="1.3"/>
<text x="38.80" y="150.30" font-size="12.4" text-anchor="end" font-weight="normal" fill="#1b1b1b" stroke="#1b1b1b" stroke-width="0.25">0.0</text>
<line x1="41.50" y1="122.82" x2="46.00" y2="122.82" stroke="#1b1b1b" stroke-width="1.3"/>
<text x="38.80" y="127.12" font-size="12.4" text-anchor="end" font-weight="normal" fill="#1b1b1b" stroke="#1b1b1b" stroke-width="0.25">0.5</text>
<line x1="41.50" y1="99.64" x2="46.00" y2="99.64" stroke="#1b1b1b" stroke-width="1.3"/>
<text x="38.80" y="103.94" font-size="12.4" text-anchor="end" font-weight="normal" fill="#1b1b1b" stroke="#1b1b1b" stroke-width="0.25">1.0</text>
<line x1="41.50" y1="76.46" x2="46.00" y2="76.46" stroke="#1b1b1b" stroke-width="1.3"/>
<text x="38.80" y="80.76" font-size="12.4" text-anchor="end" font-weight="normal" fill="#1b1b1b" stroke="#1b1b1b" stroke-width="0.25">1.5</text>
<line x1="41.50" y1="53.28" x2="46.00" y2="53.28" stroke="#1b1b1b" stroke-width="1.3"/>
<text x="38.80" y="57.58" font-size="12.4" text-anchor="end" font-weight="normal" fill="#1b1b1b" stroke="#1b1b1b" stroke-width="0.25">2.0</text>
<line x1="41.50" y1="30.10" x2="46.00" y2="30.10" stroke="#1b1b1b" stroke-width="1.3"/>
<text x="38.80" y="34.40" font-size="12.4" text-anchor="end" font-weight="normal" fill="#1b1b1b" stroke="#1b1b1b" stroke-width="0.25">2.5</text>
<line x1="43.50" y1="134.41" x2="46.00" y2="134.41" stroke="#1b1b1b" stroke-width="1.1"/>
<line x1="43.50" y1="111.23" x2="46.00" y2="111.23" stroke="#1b1b1b" stroke-width="1.1"/>
<line x1="43.50" y1="88.05" x2="46.00" y2="88.05" stroke="#1b1b1b" stroke-width="1.1"/>
<line x1="43.50" y1="64.87" x2="46.00" y2="64.87" stroke="#1b1b1b" stroke-width="1.1"/>
<line x1="43.50" y1="41.69" x2="46.00" y2="41.69" stroke="#1b1b1b" stroke-width="1.1"/>
<line x1="89.53" y1="146.00" x2="89.53" y2="151.00" stroke="#1b1b1b" stroke-width="1.3"/>
<text x="89.53" y="164.70" font-size="12.4" text-anchor="middle" font-weight="normal" fill="#1b1b1b" stroke="#1b1b1b" stroke-width="0.25">300</text>
<line x1="143.95" y1="146.00" x2="143.95" y2="151.00" stroke="#1b1b1b" stroke-width="1.3"/>
<text x="143.95" y="164.70" font-size="12.4" text-anchor="middle" font-weight="normal" fill="#1b1b1b" stroke="#1b1b1b" stroke-width="0.25">350</text>
<line x1="198.37" y1="146.00" x2="198.37" y2="151.00" stroke="#1b1b1b" stroke-width="1.3"/>
<text x="198.37" y="164.70" font-size="12.4" text-anchor="middle" font-weight="normal" fill="#1b1b1b" stroke="#1b1b1b" stroke-width="0.25">400</text>
<line x1="252.78" y1="146.00" x2="252.78" y2="151.00" stroke="#1b1b1b" stroke-width="1.3"/>
<text x="252.78" y="164.70" font-size="12.4" text-anchor="middle" font-weight="normal" fill="#1b1b1b" stroke="#1b1b1b" stroke-width="0.25">450</text>
<line x1="307.20" y1="146.00" x2="307.20" y2="151.00" stroke="#1b1b1b" stroke-width="1.3"/>
<text x="307.20" y="164.70" font-size="12.4" text-anchor="middle" font-weight="normal" fill="#1b1b1b" stroke="#1b1b1b" stroke-width="0.25">500</text>
<line x1="62.33" y1="146.00" x2="62.33" y2="148.50" stroke="#1b1b1b" stroke-width="1.1"/>
<line x1="116.74" y1="146.00" x2="116.74" y2="148.50" stroke="#1b1b1b" stroke-width="1.1"/>
<line x1="171.16" y1="146.00" x2="171.16" y2="148.50" stroke="#1b1b1b" stroke-width="1.1"/>
<line x1="225.58" y1="146.00" x2="225.58" y2="148.50" stroke="#1b1b1b" stroke-width="1.1"/>
<line x1="279.99" y1="146.00" x2="279.99" y2="148.50" stroke="#1b1b1b" stroke-width="1.1"/>
<text x="176.60" y="184.70" font-size="11.9" text-anchor="middle" font-weight="normal" fill="#1b1b1b" stroke="#1b1b1b" stroke-width="0.25">Wavelength [nm]</text>
<text x="11.10" y="78.30" font-size="11.8" text-anchor="middle" font-weight="normal" fill="#1b1b1b" stroke="#1b1b1b" stroke-width="0.25" transform="rotate(-90 11.1 78.3)">Absorbance</text>
<text x="2.60" y="16.60" font-size="21" text-anchor="start" font-weight="bold" fill="#111" letter-spacing="0.6">a)</text>
<line x1="61.40" y1="28.30" x2="73.40" y2="28.30" stroke="#36464e" stroke-width="1.5"/>
<text x="74.60" y="30.10" font-size="5" text-anchor="start" font-weight="normal" fill="#222" stroke="#222" stroke-width="0.12" letter-spacing="0.1">Initial</text>
<line x1="61.40" y1="34.45" x2="73.40" y2="34.45" stroke="#f0285e" stroke-width="1.5"/>
<text x="74.60" y="36.25" font-size="5" text-anchor="start" font-weight="normal" fill="#222" stroke="#222" stroke-width="0.12" letter-spacing="0.1">1 min</text>
<line x1="61.40" y1="40.60" x2="73.40" y2="40.60" stroke="#3a82de" stroke-width="1.5"/>
<text x="74.60" y="42.40" font-size="5" text-anchor="start" font-weight="normal" fill="#222" stroke="#222" stroke-width="0.12" letter-spacing="0.1">2 min</text>
<line x1="61.40" y1="46.75" x2="73.40" y2="46.75" stroke="#44e064" stroke-width="1.5"/>
<text x="74.60" y="48.55" font-size="5" text-anchor="start" font-weight="normal" fill="#222" stroke="#222" stroke-width="0.12" letter-spacing="0.1">3 min</text>
<line x1="61.40" y1="52.90" x2="73.40" y2="52.90" stroke="#a877e4" stroke-width="1.5"/>
<text x="74.60" y="54.70" font-size="5" text-anchor="start" font-weight="normal" fill="#222" stroke="#222" stroke-width="0.12" letter-spacing="0.1">4 min</text>
<line x1="61.40" y1="59.05" x2="73.40" y2="59.05" stroke="#dca64c" stroke-width="1.5"/>
<text x="74.60" y="60.85" font-size="5" text-anchor="start" font-weight="normal" fill="#222" stroke="#222" stroke-width="0.12" letter-spacing="0.1">5 min</text>
<line x1="61.40" y1="65.20" x2="73.40" y2="65.20" stroke="#66f090" stroke-width="1.5"/>
<text x="74.60" y="67.00" font-size="5" text-anchor="start" font-weight="normal" fill="#222" stroke="#222" stroke-width="0.12" letter-spacing="0.1">6 min</text>
<line x1="61.40" y1="71.35" x2="73.40" y2="71.35" stroke="#683a60" stroke-width="1.5"/>
<text x="74.60" y="73.15" font-size="5" text-anchor="start" font-weight="normal" fill="#222" stroke="#222" stroke-width="0.12" letter-spacing="0.1">7 min</text>
<line x1="61.40" y1="77.50" x2="73.40" y2="77.50" stroke="#6a9a32" stroke-width="1.5"/>
<text x="74.60" y="79.30" font-size="5" text-anchor="start" font-weight="normal" fill="#222" stroke="#222" stroke-width="0.12" letter-spacing="0.1">8 min</text>
<line x1="61.40" y1="83.65" x2="73.40" y2="83.65" stroke="#f25030" stroke-width="1.5"/>
<text x="74.60" y="85.45" font-size="5" text-anchor="start" font-weight="normal" fill="#222" stroke="#222" stroke-width="0.12" letter-spacing="0.1">9 min</text>
<line x1="61.40" y1="89.80" x2="73.40" y2="89.80" stroke="#86c8ee" stroke-width="1.5"/>
<text x="74.60" y="91.60" font-size="5" text-anchor="start" font-weight="normal" fill="#222" stroke="#222" stroke-width="0.12" letter-spacing="0.1">10 min</text>
<clipPath id="clipb"><rect x="373.5" y="19.0" width="260.5" height="127.19999999999999"/></clipPath>
<g clip-path="url(#clipb)">
<path d="M373.50,136.99 L375.13,137.44 L376.76,137.94 L378.38,138.39 L380.01,138.79 L381.64,139.13 L383.27,139.44 L384.90,139.73 L386.52,140.01 L388.15,140.22 L389.78,140.36 L391.41,140.36 L393.04,140.20 L394.67,139.86 L396.29,139.41 L397.92,138.88 L399.55,138.30 L401.18,137.74 L402.81,137.23 L404.43,136.79 L406.06,136.38 L407.69,135.98 L409.32,135.59 L410.95,135.21 L412.57,134.84 L414.20,134.48 L415.83,134.12 L417.46,133.72 L419.09,133.31 L420.72,132.92 L422.34,132.60 L423.97,132.38 L425.60,132.30 L427.23,132.38 L428.86,132.60 L430.48,132.90 L432.11,133.28 L433.74,133.84 L435.37,134.65 L437.00,135.59 L438.62,136.52 L440.25,137.33 L441.88,137.94 L443.51,138.47 L445.14,138.95 L446.77,139.39 L448.39,139.81 L450.02,140.22 L451.65,140.63 L453.28,141.06 L454.91,141.51 L456.53,141.84 L458.16,141.99 L459.79,142.74 L461.42,143.25 L463.05,143.77 L464.68,144.56 L466.30,144.01 L467.93,144.00 L469.56,144.14 L471.19,144.05 L472.82,144.79 L474.44,145.11 L476.07,144.19 L477.70,144.77 L479.33,144.76 L480.96,144.72 L482.58,145.01 L484.21,144.91 L485.84,145.80 L487.47,145.26 L489.10,144.92 L490.73,145.63 L492.35,145.00 L493.98,145.21 L495.61,144.80 L497.24,145.15 L498.87,144.80 L500.49,145.44 L502.12,144.85 L503.75,145.15 L505.38,145.18 L507.01,145.12 L508.63,145.03 L510.26,145.52 L511.89,144.97 L513.52,145.33 L515.15,144.81 L516.77,144.78 L518.40,145.16 L520.03,144.79 L521.66,145.05 L523.29,145.08 L524.92,144.48 L526.54,144.40 L528.17,144.46 L529.80,144.99 L531.43,144.49 L533.06,145.19 L534.68,145.02 L536.31,144.58 L537.94,144.81 L539.57,144.76 L541.20,144.38 L542.83,145.42 L544.45,145.31 L546.08,144.60 L547.71,145.34 L549.34,145.01 L550.97,145.29 L552.59,145.41 L554.22,144.45 L555.85,144.91 L557.48,144.99 L559.11,144.76 L560.73,145.06 L562.36,144.34 L563.99,145.11 L565.62,144.84 L567.25,144.93 L568.88,144.66 L570.50,144.19 L572.13,144.90 L573.76,144.53 L575.39,144.62 L577.02,144.74 L578.64,143.87 L580.27,144.02 L581.90,143.76 L583.53,144.39 L585.16,143.97 L586.78,143.51 L588.41,144.05 L590.04,144.05 L591.67,143.73 L593.30,143.78 L594.92,143.91 L596.55,144.12 L598.18,144.29 L599.81,144.10 L601.44,144.22 L603.07,144.17 L604.69,143.29 L606.32,143.28 L607.95,143.79 L609.58,143.86 L611.21,143.95 L612.83,143.49 L614.46,143.96 L616.09,143.74 L617.72,143.92 L619.35,143.53 L620.98,144.17 L622.60,144.22 L624.23,144.01 L625.86,143.77 L627.49,144.02 L629.12,143.88 L630.74,144.36 L632.37,144.03 L634.00,144.71" fill="none" stroke="#86c8ee" stroke-width="1.25" stroke-linejoin="round"/>
<path d="M373.50,136.52 L375.13,136.98 L376.76,137.47 L378.38,137.92 L380.01,138.32 L381.64,138.67 L383.27,138.97 L384.90,139.27 L386.52,139.54 L388.15,139.76 L389.78,139.89 L391.41,139.90 L393.04,139.74 L394.67,139.43 L396.29,138.99 L397.92,138.47 L399.55,137.90 L401.18,137.33 L402.81,136.79 L404.43,136.30 L406.06,135.81 L407.69,135.29 L409.32,134.77 L410.95,134.26 L412.57,133.78 L414.20,133.33 L415.83,132.90 L417.46,132.45 L419.09,131.99 L420.72,131.57 L422.34,131.23 L423.97,131.00 L425.60,130.91 L427.23,131.00 L428.86,131.24 L430.48,131.57 L432.11,131.99 L433.74,132.59 L435.37,133.46 L437.00,134.48 L438.62,135.51 L440.25,136.43 L441.88,137.17 L443.51,137.84 L445.14,138.47 L446.77,139.07 L448.39,139.63 L450.02,140.15 L451.65,140.63 L453.28,141.10 L454.91,141.58 L456.53,141.91 L458.16,142.56 L459.79,142.99 L461.42,143.35 L463.05,143.59 L464.68,143.97 L466.30,143.86 L467.93,144.08 L469.56,143.99 L471.19,144.37 L472.82,144.32 L474.44,144.47 L476.07,144.23 L477.70,144.13 L479.33,144.51 L480.96,145.24 L482.58,144.49 L484.21,145.04 L485.84,145.20 L487.47,144.86 L489.10,144.76 L490.73,144.64 L492.35,145.15 L493.98,144.45 L495.61,145.06 L497.24,145.23 L498.87,144.79 L500.49,144.78 L502.12,145.13 L503.75,144.96 L505.38,144.26 L507.01,143.95 L508.63,144.88 L510.26,144.27 L511.89,144.71 L513.52,144.38 L515.15,144.64 L516.77,144.31 L518.40,144.17 L520.03,144.43 L521.66,144.50 L523.29,144.70 L524.92,144.33 L526.54,144.34 L528.17,144.18 L529.80,144.09 L531.43,144.78 L533.06,144.59 L534.68,143.94 L536.31,144.56 L537.94,144.77 L539.57,143.62 L541.20,144.85 L542.83,144.59 L544.45,144.15 L546.08,144.74 L547.71,144.19 L549.34,144.72 L550.97,144.59 L552.59,143.86 L554.22,144.65 L555.85,144.79 L557.48,145.13 L559.11,144.82 L560.73,144.42 L562.36,144.35 L563.99,144.68 L565.62,144.03 L567.25,144.83 L568.88,144.04 L570.50,144.31 L572.13,144.49 L573.76,144.46 L575.39,144.03 L577.02,144.46 L578.64,144.25 L580.27,144.09 L581.90,144.34 L583.53,144.03 L585.16,143.59 L586.78,143.67 L588.41,143.42 L590.04,144.09 L591.67,143.60 L593.30,144.25 L594.92,144.39 L596.55,143.68 L598.18,144.49 L599.81,144.40 L601.44,144.13 L603.07,143.64 L604.69,143.62 L606.32,144.07 L607.95,144.50 L609.58,144.01 L611.21,143.83 L612.83,144.02 L614.46,144.09 L616.09,144.02 L617.72,144.02 L619.35,144.40 L620.98,144.29 L622.60,144.16 L624.23,144.26 L625.86,144.16 L627.49,144.31 L629.12,144.94 L630.74,144.56 L632.37,144.54 L634.00,144.31" fill="none" stroke="#f25030" stroke-width="1.25" stroke-linejoin="round"/>
<path d="M373.50,136.06 L375.13,136.52 L376.76,137.01 L378.38,137.46 L380.01,137.86 L381.64,138.21 L383.27,138.51 L384.90,138.81 L386.52,139.08 L388.15,139.30 L389.78,139.43 L391.41,139.44 L393.04,139.29 L394.67,138.98 L396.29,138.55 L397.92,138.04 L399.55,137.48 L401.18,136.90 L402.81,136.34 L404.43,135.82 L406.06,135.26 L407.69,134.67 L409.32,134.06 L410.95,133.45 L412.57,132.88 L414.20,132.36 L415.83,131.88 L417.46,131.39 L419.09,130.90 L420.72,130.46 L422.34,130.09 L423.97,129.84 L425.60,129.75 L427.23,129.85 L428.86,130.10 L430.48,130.47 L432.11,130.91 L433.74,131.55 L435.37,132.48 L437.00,133.56 L438.62,134.67 L440.25,135.68 L441.88,136.52 L443.51,137.32 L445.14,138.08 L446.77,138.80 L448.39,139.48 L450.02,140.09 L451.65,140.63 L453.28,141.13 L454.91,141.62 L456.53,142.32 L458.16,142.67 L459.79,143.35 L461.42,143.53 L463.05,143.01 L464.68,144.03 L466.30,144.04 L467.93,143.85 L469.56,144.24 L471.19,143.79 L472.82,144.54 L474.44,144.23 L476.07,144.31 L477.70,144.53 L479.33,144.90 L480.96,144.62 L482.58,144.36 L484.21,144.64 L485.84,144.47 L487.47,144.29 L489.10,144.51 L490.73,144.48 L492.35,144.58 L493.98,144.65 L495.61,144.48 L497.24,144.58 L498.87,144.11 L500.49,144.39 L502.12,144.71 L503.75,144.10 L505.38,143.98 L507.01,144.63 L508.63,144.16 L510.26,143.89 L511.89,144.45 L513.52,144.16 L515.15,143.51 L516.77,144.02 L518.40,143.92 L520.03,143.67 L521.66,143.90 L523.29,144.07 L524.92,144.45 L526.54,143.96 L528.17,143.95 L529.80,143.70 L531.43,144.58 L533.06,143.84 L534.68,143.74 L536.31,144.22 L537.94,144.37 L539.57,144.04 L541.20,143.93 L542.83,144.30 L544.45,143.94 L546.08,143.97 L547.71,144.18 L549.34,144.44 L550.97,144.43 L552.59,144.27 L554.22,144.50 L555.85,144.39 L557.48,144.44 L559.11,143.94 L560.73,143.97 L562.36,144.25 L563.99,144.31 L565.62,144.06 L567.25,144.05 L568.88,144.49 L570.50,144.15 L572.13,143.81 L573.76,144.24 L575.39,143.85 L577.02,143.87 L578.64,143.91 L580.27,143.95 L581.90,144.19 L583.53,143.81 L585.16,143.84 L586.78,143.35 L588.41,143.99 L590.04,144.16 L591.67,144.19 L593.30,144.44 L594.92,144.36 L596.55,143.81 L598.18,143.98 L599.81,144.47 L601.44,143.77 L603.07,143.89 L604.69,143.36 L606.32,143.88 L607.95,144.03 L609.58,144.21 L611.21,144.01 L612.83,143.91 L614.46,143.78 L616.09,144.19 L617.72,143.81 L619.35,144.24 L620.98,143.84 L622.60,144.33 L624.23,144.22 L625.86,143.90 L627.49,143.74 L629.12,144.13 L630.74,144.15 L632.37,144.33 L634.00,144.79" fill="none" stroke="#6a9a32" stroke-width="1.25" stroke-linejoin="round"/>
<path d="M373.50,135.13 L375.13,135.59 L376.76,136.08 L378.38,136.53 L380.01,136.93 L381.64,137.28 L383.27,137.58 L384.90,137.88 L386.52,138.15 L388.15,138.37 L389.78,138.50 L391.41,138.51 L393.04,138.36 L394.67,138.06 L396.29,137.64 L397.92,137.13 L399.55,136.57 L401.18,135.99 L402.81,135.42 L404.43,134.88 L406.06,134.30 L407.69,133.67 L409.32,133.02 L410.95,132.37 L412.57,131.75 L414.20,131.19 L415.83,130.68 L417.46,130.14 L419.09,129.61 L420.72,129.13 L422.34,128.73 L423.97,128.46 L425.60,128.36 L427.23,128.47 L428.86,128.74 L430.48,129.14 L432.11,129.62 L433.74,130.31 L435.37,131.30 L437.00,132.46 L438.62,133.67 L440.25,134.78 L441.88,135.75 L443.51,136.69 L445.14,137.61 L446.77,138.49 L448.39,139.30 L450.02,140.02 L451.65,140.62 L453.28,141.16 L454.91,141.69 L456.53,142.07 L458.16,143.11 L459.79,142.70 L461.42,143.58 L463.05,144.02 L464.68,143.24 L466.30,143.52 L467.93,143.49 L469.56,143.85 L471.19,143.53 L472.82,143.96 L474.44,144.07 L476.07,143.80 L477.70,143.78 L479.33,143.76 L480.96,143.72 L482.58,143.95 L484.21,144.38 L485.84,143.53 L487.47,143.68 L489.10,143.96 L490.73,144.20 L492.35,143.92 L493.98,144.02 L495.61,143.80 L497.24,143.62 L498.87,143.51 L500.49,143.45 L502.12,143.81 L503.75,143.90 L505.38,144.44 L507.01,143.79 L508.63,143.81 L510.26,143.57 L511.89,143.55 L513.52,143.65 L515.15,143.11 L516.77,143.12 L518.40,142.66 L520.03,142.57 L521.66,143.31 L523.29,143.10 L524.92,142.61 L526.54,142.69 L528.17,142.86 L529.80,142.78 L531.43,142.74 L533.06,142.78 L534.68,142.55 L536.31,142.66 L537.94,143.10 L539.57,143.03 L541.20,143.49 L542.83,143.24 L544.45,143.58 L546.08,143.20 L547.71,142.91 L549.34,143.10 L550.97,143.61 L552.59,143.20 L554.22,143.47 L555.85,143.48 L557.48,142.99 L559.11,144.03 L560.73,142.86 L562.36,143.65 L563.99,143.44 L565.62,143.79 L567.25,143.53 L568.88,143.77 L570.50,143.84 L572.13,143.65 L573.76,143.57 L575.39,143.73 L577.02,143.51 L578.64,144.58 L580.27,144.17 L581.90,144.22 L583.53,143.52 L585.16,143.89 L586.78,143.98 L588.41,144.19 L590.04,143.45 L591.67,143.51 L593.30,143.83 L594.92,144.23 L596.55,144.08 L598.18,144.16 L599.81,143.73 L601.44,144.31 L603.07,144.04 L604.69,143.82 L606.32,144.27 L607.95,144.35 L609.58,144.71 L611.21,144.44 L612.83,144.59 L614.46,144.28 L616.09,144.09 L617.72,144.26 L619.35,144.61 L620.98,143.84 L622.60,144.36 L624.23,144.47 L625.86,144.48 L627.49,144.42 L629.12,144.36 L630.74,144.23 L632.37,144.62 L634.00,144.79" fill="none" stroke="#683a60" stroke-width="1.25" stroke-linejoin="round"/>
<path d="M373.50,134.20 L375.13,134.66 L376.76,135.15 L378.38,135.60 L380.01,136.00 L381.64,136.35 L383.27,136.65 L384.90,136.95 L386.52,137.22 L388.15,137.44 L389.78,137.57 L391.41,137.58 L393.04,137.44 L394.67,137.15 L396.29,136.74 L397.92,136.24 L399.55,135.69 L401.18,135.10 L402.81,134.52 L404.43,133.93 L406.06,133.26 L407.69,132.50 L409.32,131.69 L410.95,130.88 L412.57,130.12 L414.20,129.45 L415.83,128.85 L417.46,128.25 L419.09,127.66 L420.72,127.12 L422.34,126.68 L423.97,126.38 L425.60,126.28 L427.23,126.39 L428.86,126.70 L430.48,127.14 L432.11,127.68 L433.74,128.44 L435.37,129.53 L437.00,130.82 L438.62,132.17 L440.25,133.43 L441.88,134.58 L443.51,135.74 L445.14,136.90 L446.77,138.03 L448.39,139.05 L450.02,139.93 L451.65,140.62 L453.28,141.19 L454.91,141.73 L456.53,142.42 L458.16,142.52 L459.79,143.22 L461.42,143.21 L463.05,144.32 L464.68,143.72 L466.30,143.38 L467.93,143.49 L469.56,143.85 L471.19,143.38 L472.82,143.83 L474.44,143.46 L476.07,144.10 L477.70,143.45 L479.33,144.07 L480.96,144.06 L482.58,143.52 L484.21,143.13 L485.84,143.61 L487.47,143.78 L489.10,143.32 L490.73,143.83 L492.35,143.04 L493.98,142.94 L495.61,143.44 L497.24,143.13 L498.87,142.73 L500.49,143.31 L502.12,143.16 L503.75,142.73 L505.38,142.84 L507.01,142.87 L508.63,142.75 L510.26,142.24 L511.89,142.64 L513.52,141.78 L515.15,142.19 L516.77,142.45 L518.40,142.64 L520.03,142.39 L521.66,142.22 L523.29,142.06 L524.92,141.80 L526.54,142.27 L528.17,142.43 L529.80,141.88 L531.43,141.98 L533.06,142.24 L534.68,142.28 L536.31,142.37 L537.94,141.57 L539.57,142.60 L541.20,142.59 L542.83,142.15 L544.45,143.08 L546.08,142.21 L547.71,142.60 L549.34,142.40 L550.97,142.30 L552.59,142.51 L554.22,142.33 L555.85,142.61 L557.48,142.92 L559.11,143.42 L560.73,142.55 L562.36,142.30 L563.99,142.90 L565.62,143.06 L567.25,143.55 L568.88,142.54 L570.50,143.10 L572.13,143.13 L573.76,143.51 L575.39,143.12 L577.02,143.61 L578.64,143.36 L580.27,143.71 L581.90,143.95 L583.53,143.32 L585.16,144.03 L586.78,143.56 L588.41,143.55 L590.04,143.95 L591.67,144.02 L593.30,143.86 L594.92,144.00 L596.55,143.87 L598.18,144.11 L599.81,143.79 L601.44,144.00 L603.07,144.18 L604.69,144.47 L606.32,144.14 L607.95,144.26 L609.58,144.21 L611.21,144.14 L612.83,144.07 L614.46,144.25 L616.09,144.35 L617.72,144.52 L619.35,144.41 L620.98,144.88 L622.60,144.12 L624.23,144.55 L625.86,144.87 L627.49,145.01 L629.12,144.51 L630.74,144.42 L632.37,144.19 L634.00,144.50" fill="none" stroke="#66f090" stroke-width="1.25" stroke-linejoin="round"/>
<path d="M373.50,133.28 L375.13,133.73 L376.76,134.23 L378.38,134.68 L380.01,135.08 L381.64,135.42 L383.27,135.73 L384.90,136.02 L386.52,136.29 L388.15,136.51 L389.78,136.64 L391.41,136.66 L393.04,136.52 L394.67,136.24 L396.29,135.84 L397.92,135.35 L399.55,134.80 L401.18,134.21 L402.81,133.60 L404.43,132.98 L406.06,132.22 L407.69,131.33 L409.32,130.36 L410.95,129.38 L412.57,128.46 L414.20,127.67 L415.83,126.99 L417.46,126.32 L419.09,125.66 L420.72,125.07 L422.34,124.58 L423.97,124.26 L425.60,124.15 L427.23,124.27 L428.86,124.62 L430.48,125.10 L432.11,125.69 L433.74,126.53 L435.37,127.72 L437.00,129.14 L438.62,130.63 L440.25,132.06 L441.88,133.39 L443.51,134.77 L445.14,136.19 L446.77,137.56 L448.39,138.80 L450.02,139.84 L451.65,140.61 L453.28,141.21 L454.91,141.76 L456.53,142.99 L458.16,142.59 L459.79,143.57 L461.42,143.07 L463.05,143.47 L464.68,144.15 L466.30,144.11 L467.93,143.56 L469.56,143.76 L471.19,143.79 L472.82,143.92 L474.44,143.46 L476.07,143.64 L477.70,143.53 L479.33,143.56 L480.96,143.10 L482.58,143.09 L484.21,143.12 L485.84,143.04 L487.47,142.75 L489.10,142.85 L490.73,142.06 L492.35,142.17 L493.98,142.41 L495.61,141.64 L497.24,142.45 L498.87,141.75 L500.49,141.75 L502.12,141.87 L503.75,141.25 L505.38,141.31 L507.01,141.30 L508.63,140.66 L510.26,141.00 L511.89,140.90 L513.52,141.02 L515.15,141.11 L516.77,140.61 L518.40,141.07 L520.03,141.01 L521.66,140.68 L523.29,141.27 L524.92,140.58 L526.54,140.60 L528.17,140.51 L529.80,141.03 L531.43,140.90 L533.06,141.14 L534.68,141.14 L536.31,140.48 L537.94,140.77 L539.57,141.14 L541.20,141.28 L542.83,141.07 L544.45,141.21 L546.08,141.15 L547.71,141.04 L549.34,140.83 L550.97,141.07 L552.59,140.89 L554.22,140.93 L555.85,141.29 L557.48,141.91 L559.11,142.08 L560.73,141.60 L562.36,141.20 L563.99,141.46 L565.62,141.65 L567.25,142.09 L568.88,142.38 L570.50,142.37 L572.13,142.90 L573.76,142.64 L575.39,142.69 L577.02,143.29 L578.64,142.67 L580.27,143.49 L581.90,143.19 L583.53,142.72 L585.16,143.67 L586.78,143.70 L588.41,143.59 L590.04,144.20 L591.67,143.59 L593.30,143.82 L594.92,144.01 L596.55,143.98 L598.18,144.12 L599.81,144.14 L601.44,143.92 L603.07,144.16 L604.69,144.02 L606.32,144.01 L607.95,144.38 L609.58,143.91 L611.21,144.29 L612.83,143.88 L614.46,144.36 L616.09,144.33 L617.72,144.26 L619.35,144.17 L620.98,144.22 L622.60,144.12 L624.23,144.23 L625.86,144.36 L627.49,144.51 L629.12,144.28 L630.74,144.63 L632.37,144.14 L634.00,144.65" fill="none" stroke="#dca64c" stroke-width="1.25" stroke-linejoin="round"/>
<path d="M373.50,132.33 L375.13,132.65 L376.76,133.00 L378.38,133.32 L380.01,133.60 L381.64,133.84 L383.27,134.03 L384.90,134.18 L386.52,134.30 L388.15,134.42 L389.78,134.51 L391.41,134.57 L393.04,134.58 L394.67,134.46 L396.29,134.15 L397.92,133.69 L399.55,133.11 L401.18,132.47 L402.81,131.79 L404.43,131.10 L406.06,130.27 L407.69,129.29 L409.32,128.22 L410.95,127.12 L412.57,126.08 L414.20,125.14 L415.83,124.30 L417.46,123.43 L419.09,122.56 L420.72,121.76 L422.34,121.10 L423.97,120.65 L425.60,120.49 L427.23,120.67 L428.86,121.13 L430.48,121.79 L432.11,122.58 L433.74,123.65 L435.37,125.14 L437.00,126.88 L438.62,128.68 L440.25,130.36 L441.88,131.88 L443.51,133.43 L445.14,134.98 L446.77,136.46 L448.39,137.79 L450.02,138.88 L451.65,139.68 L453.28,140.29 L454.91,140.85 L456.53,141.04 L458.16,141.61 L459.79,142.66 L461.42,142.86 L463.05,142.92 L464.68,143.07 L466.30,142.63 L467.93,143.30 L469.56,142.50 L471.19,142.97 L472.82,142.35 L474.44,142.59 L476.07,142.60 L477.70,142.73 L479.33,142.15 L480.96,142.06 L482.58,141.91 L484.21,142.00 L485.84,141.84 L487.47,141.91 L489.10,141.61 L490.73,141.95 L492.35,141.29 L493.98,141.62 L495.61,141.12 L497.24,141.77 L498.87,141.12 L500.49,141.02 L502.12,140.15 L503.75,139.74 L505.38,140.57 L507.01,139.97 L508.63,139.43 L510.26,139.50 L511.89,138.77 L513.52,139.14 L515.15,138.61 L516.77,138.34 L518.40,138.74 L520.03,138.64 L521.66,138.37 L523.29,138.58 L524.92,138.29 L526.54,138.49 L528.17,138.36 L529.80,138.18 L531.43,138.50 L533.06,138.90 L534.68,138.96 L536.31,138.57 L537.94,139.00 L539.57,138.38 L541.20,139.28 L542.83,138.73 L544.45,138.48 L546.08,139.22 L547.71,139.09 L549.34,139.29 L550.97,139.24 L552.59,138.97 L554.22,139.56 L555.85,139.40 L557.48,139.45 L559.11,139.84 L560.73,139.83 L562.36,140.17 L563.99,140.19 L565.62,140.41 L567.25,140.78 L568.88,140.50 L570.50,140.73 L572.13,141.42 L573.76,140.81 L575.39,141.50 L577.02,141.69 L578.64,141.90 L580.27,141.80 L581.90,142.34 L583.53,142.70 L585.16,142.97 L586.78,142.89 L588.41,142.72 L590.04,143.00 L591.67,143.00 L593.30,143.20 L594.92,142.86 L596.55,143.30 L598.18,143.39 L599.81,143.26 L601.44,143.37 L603.07,143.31 L604.69,143.35 L606.32,143.73 L607.95,143.41 L609.58,144.10 L611.21,143.78 L612.83,143.97 L614.46,144.23 L616.09,144.15 L617.72,144.28 L619.35,143.75 L620.98,143.68 L622.60,144.57 L624.23,143.81 L625.86,144.03 L627.49,144.42 L629.12,144.70 L630.74,144.30 L632.37,144.55 L634.00,144.21" fill="none" stroke="#a877e4" stroke-width="1.25" stroke-linejoin="round"/>
<path d="M373.50,130.51 L374.59,130.75 L375.67,131.05 L376.76,131.35 L377.84,131.62 L378.93,131.87 L380.01,132.10 L381.10,132.31 L382.18,132.48 L383.27,132.62 L384.35,132.74 L385.44,132.83 L386.52,132.92 L387.61,132.99 L388.70,133.06 L389.78,133.12 L390.87,133.16 L391.95,133.19 L393.04,133.19 L394.12,133.12 L395.21,132.98 L396.29,132.75 L397.38,132.45 L398.46,132.10 L399.55,131.71 L400.64,131.30 L401.72,130.86 L402.81,130.35 L403.89,129.72 L404.98,128.99 L406.06,128.17 L407.15,127.29 L408.23,126.39 L409.32,125.48 L410.40,124.60 L411.49,123.78 L412.57,123.01 L413.66,122.29 L414.75,121.58 L415.83,120.87 L416.92,120.19 L418.00,119.54 L419.09,118.94 L420.17,118.39 L421.26,117.90 L422.34,117.44 L423.43,117.02 L424.51,116.70 L425.60,116.58 L426.69,116.67 L427.77,116.94 L428.86,117.34 L429.94,117.83 L431.03,118.42 L432.11,119.17 L433.20,120.16 L434.28,121.36 L435.37,122.69 L436.45,124.07 L437.54,125.42 L438.62,126.70 L439.71,127.96 L440.80,129.25 L441.88,130.57 L442.97,131.87 L444.05,133.09 L445.14,134.21 L446.22,135.17 L447.31,135.95 L448.39,136.62 L449.48,137.23 L450.56,137.82 L451.65,138.38 L452.74,138.90 L453.82,139.38 L454.91,139.81 L455.99,140.19 L457.08,140.51 L458.16,140.77 L459.25,140.96 L460.33,141.08 L461.42,141.17 L462.50,141.24 L463.59,141.30 L464.68,141.36 L465.76,141.41 L466.85,141.45 L467.93,141.49 L469.02,141.52 L470.10,141.54 L471.19,141.55 L472.27,141.55 L473.36,141.50 L474.44,141.40 L475.53,141.24 L476.61,141.02 L477.70,140.75 L478.79,140.44 L479.87,140.10 L480.96,139.72 L482.04,139.33 L483.13,138.91 L484.21,138.49 L485.30,138.07 L486.38,137.64 L487.47,137.23 L488.55,136.84 L489.64,136.46 L490.73,136.12 L491.81,135.81 L492.90,135.54 L493.98,135.32 L495.07,135.14 L496.15,134.98 L497.24,134.83 L498.32,134.67 L499.41,134.52 L500.49,134.37 L501.58,134.22 L502.66,134.07 L503.75,133.93 L504.84,133.79 L505.92,133.65 L507.01,133.52 L508.09,133.40 L509.18,133.27 L510.26,133.16 L511.35,133.05 L512.43,132.94 L513.52,132.84 L514.60,132.75 L515.69,132.67 L516.77,132.59 L517.86,132.52 L518.95,132.46 L520.03,132.41 L521.12,132.36 L522.20,132.33 L523.29,132.30 L524.37,132.29 L525.46,132.28 L526.54,132.30 L527.63,132.32 L528.71,132.37 L529.80,132.43 L530.89,132.51 L531.97,132.59 L533.06,132.69 L534.14,132.80 L535.23,132.92 L536.31,133.04 L537.40,133.16 L538.48,133.29 L539.57,133.42 L540.65,133.55 L541.74,133.67 L542.83,133.81 L543.91,133.95 L545.00,134.11 L546.08,134.27 L547.17,134.45 L548.25,134.64 L549.34,134.83 L550.42,135.03 L551.51,135.23 L552.59,135.44 L553.68,135.65 L554.76,135.87 L555.85,136.08 L556.94,136.29 L558.02,136.51 L559.11,136.71 L560.19,136.92 L561.28,137.13 L562.36,137.34 L563.45,137.56 L564.53,137.78 L565.62,138.01 L566.70,138.23 L567.79,138.46 L568.88,138.68 L569.96,138.90 L571.05,139.11 L572.13,139.32 L573.22,139.51 L574.30,139.70 L575.39,139.89 L576.47,140.07 L577.56,140.25 L578.64,140.44 L579.73,140.62 L580.81,140.80 L581.90,140.97 L582.99,141.14 L584.07,141.30 L585.16,141.45 L586.24,141.59 L587.33,141.72 L588.41,141.83 L589.50,141.93 L590.58,142.02 L591.67,142.10 L592.75,142.18 L593.84,142.25 L594.92,142.33 L596.01,142.40 L597.10,142.47 L598.18,142.54 L599.27,142.61 L600.35,142.68 L601.44,142.75 L602.52,142.82 L603.61,142.88 L604.69,142.94 L605.78,143.01 L606.86,143.07 L607.95,143.12 L609.04,143.18 L610.12,143.24 L611.21,143.29 L612.29,143.34 L613.38,143.39 L614.46,143.44 L615.55,143.48 L616.63,143.52 L617.72,143.57 L618.80,143.60 L619.89,143.64 L620.98,143.67 L622.06,143.71 L623.15,143.73 L624.23,143.76 L625.32,143.79 L626.40,143.81 L627.49,143.83 L628.57,143.84 L629.66,143.86 L630.74,143.87 L631.83,143.87 L632.91,143.88 L634.00,143.88" fill="none" stroke="#44e064" stroke-width="1.25" stroke-linejoin="round"/>
<path d="M373.50,128.63 L374.59,128.79 L375.67,129.00 L376.76,129.21 L377.84,129.41 L378.93,129.60 L380.01,129.78 L381.10,129.95 L382.18,130.12 L383.27,130.27 L384.35,130.42 L385.44,130.57 L386.52,130.73 L387.61,130.88 L388.70,131.02 L389.78,131.15 L390.87,131.25 L391.95,131.31 L393.04,131.32 L394.12,131.25 L395.21,131.07 L396.29,130.79 L397.38,130.43 L398.46,130.01 L399.55,129.55 L400.64,129.06 L401.72,128.54 L402.81,127.95 L403.89,127.24 L404.98,126.42 L406.06,125.51 L407.15,124.55 L408.23,123.56 L409.32,122.57 L410.40,121.61 L411.49,120.69 L412.57,119.78 L413.66,118.87 L414.75,117.95 L415.83,117.03 L416.92,116.14 L418.00,115.28 L419.09,114.48 L420.17,113.72 L421.26,112.96 L422.34,112.20 L423.43,111.49 L424.51,110.94 L425.60,110.62 L426.69,110.61 L427.77,110.89 L428.86,111.40 L429.94,112.07 L431.03,112.87 L432.11,113.93 L433.20,115.30 L434.28,116.90 L435.37,118.57 L436.45,120.20 L437.54,121.81 L438.62,123.45 L439.71,125.09 L440.80,126.68 L441.88,128.15 L442.97,129.46 L444.05,130.65 L445.14,131.78 L446.22,132.86 L447.31,133.87 L448.39,134.80 L449.48,135.62 L450.56,136.32 L451.65,136.90 L452.74,137.40 L453.82,137.86 L454.91,138.30 L455.99,138.68 L457.08,139.01 L458.16,139.25 L459.25,139.40 L460.33,139.44 L461.42,139.38 L462.50,139.25 L463.59,139.06 L464.68,138.83 L465.76,138.58 L466.85,138.30 L467.93,137.97 L469.02,137.58 L470.10,137.12 L471.19,136.61 L472.27,136.06 L473.36,135.48 L474.44,134.90 L475.53,134.32 L476.61,133.77 L477.70,133.23 L478.79,132.70 L479.87,132.16 L480.96,131.62 L482.04,131.08 L483.13,130.55 L484.21,130.03 L485.30,129.52 L486.38,129.04 L487.47,128.56 L488.55,128.09 L489.64,127.63 L490.73,127.18 L491.81,126.76 L492.90,126.36 L493.98,125.99 L495.07,125.66 L496.15,125.36 L497.24,125.06 L498.32,124.78 L499.41,124.51 L500.49,124.25 L501.58,124.00 L502.66,123.76 L503.75,123.54 L504.84,123.32 L505.92,123.11 L507.01,122.91 L508.09,122.72 L509.18,122.54 L510.26,122.35 L511.35,122.17 L512.43,121.98 L513.52,121.79 L514.60,121.60 L515.69,121.42 L516.77,121.24 L517.86,121.07 L518.95,120.91 L520.03,120.76 L521.12,120.63 L522.20,120.51 L523.29,120.41 L524.37,120.33 L525.46,120.27 L526.54,120.23 L527.63,120.23 L528.71,120.28 L529.80,120.38 L530.89,120.52 L531.97,120.70 L533.06,120.91 L534.14,121.13 L535.23,121.37 L536.31,121.62 L537.40,121.90 L538.48,122.23 L539.57,122.60 L540.65,123.02 L541.74,123.45 L542.83,123.90 L543.91,124.35 L545.00,124.78 L546.08,125.19 L547.17,125.58 L548.25,125.94 L549.34,126.30 L550.42,126.64 L551.51,126.98 L552.59,127.32 L553.68,127.66 L554.76,128.01 L555.85,128.36 L556.94,128.74 L558.02,129.12 L559.11,129.53 L560.19,129.97 L561.28,130.46 L562.36,130.99 L563.45,131.57 L564.53,132.19 L565.62,132.81 L566.70,133.45 L567.79,134.07 L568.88,134.67 L569.96,135.24 L571.05,135.75 L572.13,136.21 L573.22,136.63 L574.30,137.03 L575.39,137.42 L576.47,137.79 L577.56,138.15 L578.64,138.50 L579.73,138.82 L580.81,139.13 L581.90,139.42 L582.99,139.69 L584.07,139.93 L585.16,140.16 L586.24,140.38 L587.33,140.58 L588.41,140.77 L589.50,140.95 L590.58,141.13 L591.67,141.29 L592.75,141.43 L593.84,141.57 L594.92,141.68 L596.01,141.79 L597.10,141.89 L598.18,141.98 L599.27,142.07 L600.35,142.17 L601.44,142.26 L602.52,142.35 L603.61,142.44 L604.69,142.52 L605.78,142.61 L606.86,142.69 L607.95,142.77 L609.04,142.85 L610.12,142.93 L611.21,143.01 L612.29,143.08 L613.38,143.15 L614.46,143.22 L615.55,143.29 L616.63,143.35 L617.72,143.41 L618.80,143.46 L619.89,143.52 L620.98,143.57 L622.06,143.62 L623.15,143.66 L624.23,143.70 L625.32,143.74 L626.40,143.77 L627.49,143.80 L628.57,143.82 L629.66,143.84 L630.74,143.86 L631.83,143.87 L632.91,143.88 L634.00,143.88" fill="none" stroke="#3a82de" stroke-width="1.25" stroke-linejoin="round"/>
<path d="M373.50,123.93 L374.59,124.26 L375.67,124.58 L376.76,124.90 L377.84,125.20 L378.93,125.48 L380.01,125.75 L381.10,126.01 L382.18,126.25 L383.27,126.48 L384.35,126.73 L385.44,126.98 L386.52,127.23 L387.61,127.46 L388.70,127.67 L389.78,127.85 L390.87,127.98 L391.95,128.07 L393.04,128.10 L394.12,128.02 L395.21,127.77 L396.29,127.41 L397.38,126.95 L398.46,126.43 L399.55,125.87 L400.64,125.32 L401.72,124.70 L402.81,123.95 L403.89,123.10 L404.98,122.19 L406.06,121.22 L407.15,120.25 L408.23,119.29 L409.32,118.31 L410.40,117.29 L411.49,116.23 L412.57,115.15 L413.66,114.06 L414.75,112.99 L415.83,111.94 L416.92,110.94 L418.00,109.92 L419.09,108.87 L420.17,107.87 L421.26,106.99 L422.34,106.30 L423.43,105.72 L424.51,105.17 L425.60,104.73 L426.69,104.48 L427.77,104.48 L428.86,104.77 L429.94,105.28 L431.03,105.97 L432.11,106.76 L433.20,108.08 L434.28,110.10 L435.37,112.42 L436.45,114.65 L437.54,116.86 L438.62,119.24 L439.71,121.59 L440.80,123.69 L441.88,125.32 L442.97,126.61 L444.05,127.81 L445.14,128.90 L446.22,129.87 L447.31,130.69 L448.39,131.35 L449.48,131.82 L450.56,132.17 L451.65,132.50 L452.74,132.79 L453.82,133.01 L454.91,133.16 L455.99,133.21 L457.08,133.17 L458.16,133.06 L459.25,132.91 L460.33,132.74 L461.42,132.55 L462.50,132.29 L463.59,132.00 L464.68,131.68 L465.76,131.35 L466.85,131.03 L467.93,130.69 L469.02,130.34 L470.10,129.95 L471.19,129.52 L472.27,129.03 L473.36,128.44 L474.44,127.73 L475.53,126.94 L476.61,126.12 L477.70,125.32 L478.79,124.52 L479.87,123.70 L480.96,122.87 L482.04,122.03 L483.13,121.19 L484.21,120.38 L485.30,119.57 L486.38,118.74 L487.47,117.88 L488.55,116.97 L489.64,116.01 L490.73,115.01 L491.81,113.96 L492.90,112.83 L493.98,111.60 L495.07,110.11 L496.15,108.64 L497.24,107.44 L498.32,106.32 L499.41,105.28 L500.49,104.29 L501.58,103.36 L502.66,102.49 L503.75,101.66 L504.84,100.88 L505.92,100.14 L507.01,99.45 L508.09,98.79 L509.18,98.15 L510.26,97.51 L511.35,96.87 L512.43,96.22 L513.52,95.55 L514.60,94.87 L515.69,94.20 L516.77,93.55 L517.86,92.94 L518.95,92.39 L520.03,91.91 L521.12,91.46 L522.20,90.99 L523.29,90.55 L524.37,90.15 L525.46,89.84 L526.54,89.64 L527.63,89.59 L528.71,89.64 L529.80,89.74 L530.89,89.89 L531.97,90.06 L533.06,90.33 L534.14,90.76 L535.23,91.32 L536.31,91.94 L537.40,92.58 L538.48,93.24 L539.57,94.00 L540.65,94.82 L541.74,95.69 L542.83,96.55 L543.91,97.60 L545.00,98.79 L546.08,99.79 L547.17,100.26 L548.25,99.71 L549.34,99.39 L550.42,100.12 L551.51,101.46 L552.59,103.03 L553.68,104.44 L554.76,105.66 L555.85,106.88 L556.94,108.12 L558.02,109.36 L559.11,110.61 L560.19,111.86 L561.28,113.15 L562.36,114.47 L563.45,115.76 L564.53,116.97 L565.62,118.08 L566.70,119.15 L567.79,120.17 L568.88,121.17 L569.96,122.16 L571.05,123.15 L572.13,124.16 L573.22,125.22 L574.30,126.33 L575.39,127.45 L576.47,128.55 L577.56,129.58 L578.64,130.53 L579.73,131.35 L580.81,132.07 L581.90,132.72 L582.99,133.33 L584.07,133.90 L585.16,134.45 L586.24,134.97 L587.33,135.48 L588.41,135.99 L589.50,136.52 L590.58,137.05 L591.67,137.57 L592.75,138.07 L593.84,138.52 L594.92,138.92 L596.01,139.24 L597.10,139.51 L598.18,139.77 L599.27,140.02 L600.35,140.25 L601.44,140.47 L602.52,140.68 L603.61,140.87 L604.69,141.05 L605.78,141.22 L606.86,141.38 L607.95,141.53 L609.04,141.67 L610.12,141.80 L611.21,141.92 L612.29,142.02 L613.38,142.13 L614.46,142.23 L615.55,142.33 L616.63,142.43 L617.72,142.53 L618.80,142.62 L619.89,142.72 L620.98,142.81 L622.06,142.89 L623.15,142.97 L624.23,143.05 L625.32,143.12 L626.40,143.18 L627.49,143.24 L628.57,143.29 L629.66,143.33 L630.74,143.36 L631.83,143.39 L632.91,143.41 L634.00,143.42" fill="none" stroke="#f0285e" stroke-width="1.25" stroke-linejoin="round"/>
<path d="M373.50,125.34 L374.59,125.71 L375.67,126.18 L376.76,126.72 L377.84,127.29 L378.93,127.88 L380.01,128.48 L381.10,129.11 L382.18,129.76 L383.27,130.43 L384.35,131.10 L385.44,131.75 L386.52,132.38 L387.61,132.98 L388.70,133.53 L389.78,134.05 L390.87,134.52 L391.95,134.94 L393.04,135.31 L394.12,135.62 L395.21,135.88 L396.29,136.09 L397.38,136.25 L398.46,136.39 L399.55,136.50 L400.64,136.59 L401.72,136.66 L402.81,136.72 L403.89,136.77 L404.98,136.81 L406.06,136.85 L407.15,136.89 L408.23,136.92 L409.32,136.96 L410.40,136.99 L411.49,137.03 L412.57,137.06 L413.66,137.09 L414.75,137.11 L415.83,137.12 L416.92,137.12 L418.00,137.10 L419.09,137.07 L420.17,137.02 L421.26,136.94 L422.34,136.83 L423.43,136.68 L424.51,136.49 L425.60,136.27 L426.69,136.02 L427.77,135.76 L428.86,135.50 L429.94,135.22 L431.03,134.94 L432.11,134.64 L433.20,134.33 L434.28,134.00 L435.37,133.65 L436.45,133.27 L437.54,132.87 L438.62,132.44 L439.71,131.98 L440.80,131.47 L441.88,130.93 L442.97,130.34 L444.05,129.70 L445.14,129.02 L446.22,128.30 L447.31,127.52 L448.39,126.70 L449.48,125.82 L450.56,124.90 L451.65,123.95 L452.74,122.98 L453.82,122.00 L454.91,121.02 L455.99,120.05 L457.08,119.11 L458.16,118.20 L459.25,117.29 L460.33,116.36 L461.42,115.37 L462.50,114.28 L463.59,113.09 L464.68,111.81 L465.76,110.46 L466.85,109.06 L467.93,107.63 L469.02,106.17 L470.10,104.66 L471.19,103.09 L472.27,101.44 L473.36,99.72 L474.44,97.94 L475.53,96.13 L476.61,94.33 L477.70,92.57 L478.79,90.85 L479.87,89.17 L480.96,87.54 L482.04,85.93 L483.13,84.34 L484.21,82.75 L485.30,81.15 L486.38,79.51 L487.47,77.82 L488.55,76.07 L489.64,74.28 L490.73,72.48 L491.81,70.69 L492.90,68.94 L493.98,67.21 L495.07,65.51 L496.15,63.82 L497.24,62.11 L498.32,60.39 L499.41,58.66 L500.49,56.91 L501.58,55.18 L502.66,53.45 L503.75,51.74 L504.84,50.04 L505.92,48.37 L507.01,46.70 L508.09,45.05 L509.18,43.44 L510.26,41.88 L511.35,40.41 L512.43,39.03 L513.52,37.77 L514.60,36.62 L515.69,35.60 L516.77,34.68 L517.86,33.87 L518.95,33.15 L520.03,32.53 L521.12,31.99 L522.20,31.56 L523.29,31.25 L524.37,31.07 L525.46,31.05 L526.54,31.18 L527.63,31.46 L528.71,31.89 L529.80,32.47 L530.89,33.20 L531.97,34.06 L533.06,35.05 L534.14,36.14 L535.23,37.35 L536.31,38.66 L537.40,40.07 L538.48,41.58 L539.57,43.18 L540.65,44.87 L541.74,46.67 L542.83,48.58 L543.91,50.59 L545.00,52.71 L546.08,54.93 L547.17,57.25 L548.25,59.65 L549.34,62.11 L550.42,64.58 L551.51,67.07 L552.59,69.54 L553.68,72.01 L554.76,74.47 L555.85,76.93 L556.94,79.38 L558.02,81.84 L559.11,84.29 L560.19,86.73 L561.28,89.15 L562.36,91.56 L563.45,93.94 L564.53,96.30 L565.62,98.62 L566.70,100.92 L567.79,103.19 L568.88,105.43 L569.96,107.63 L571.05,109.80 L572.13,111.92 L573.22,113.99 L574.30,115.98 L575.39,117.89 L576.47,119.70 L577.56,121.43 L578.64,123.07 L579.73,124.62 L580.81,126.09 L581.90,127.49 L582.99,128.81 L584.07,130.06 L585.16,131.24 L586.24,132.36 L587.33,133.41 L588.41,134.40 L589.50,135.33 L590.58,136.19 L591.67,137.00 L592.75,137.74 L593.84,138.42 L594.92,139.02 L596.01,139.54 L597.10,139.97 L598.18,140.32 L599.27,140.60 L600.35,140.83 L601.44,141.01 L602.52,141.16 L603.61,141.29 L604.69,141.39 L605.78,141.47 L606.86,141.54 L607.95,141.60 L609.04,141.66 L610.12,141.70 L611.21,141.75 L612.29,141.78 L613.38,141.81 L614.46,141.84 L615.55,141.87 L616.63,141.89 L617.72,141.91 L618.80,141.93 L619.89,141.95 L620.98,141.98 L622.06,142.00 L623.15,142.03 L624.23,142.06 L625.32,142.10 L626.40,142.14 L627.49,142.18 L628.57,142.23 L629.66,142.27 L630.74,142.32 L631.83,142.37 L632.91,142.41 L634.00,142.44" fill="none" stroke="#36464e" stroke-width="1.1" stroke-linejoin="round"/>
</g>
<rect x="373.5" y="19.0" width="260.5" height="127.19999999999999" fill="none" stroke="#1b1b1b" stroke-width="1.5"/>
<line x1="369.00" y1="146.20" x2="373.50" y2="146.20" stroke="#1b1b1b" stroke-width="1.3"/>
<text x="365.00" y="150.50" font-size="12.4" text-anchor="end" font-weight="normal" fill="#1b1b1b" stroke="#1b1b1b" stroke-width="0.25">0.0</text>
<line x1="369.00" y1="123.00" x2="373.50" y2="123.00" stroke="#1b1b1b" stroke-width="1.3"/>
<text x="365.00" y="127.30" font-size="12.4" text-anchor="end" font-weight="normal" fill="#1b1b1b" stroke="#1b1b1b" stroke-width="0.25">0.5</text>
<line x1="369.00" y1="99.80" x2="373.50" y2="99.80" stroke="#1b1b1b" stroke-width="1.3"/>
<text x="365.00" y="104.10" font-size="12.4" text-anchor="end" font-weight="normal" fill="#1b1b1b" stroke="#1b1b1b" stroke-width="0.25">1.0</text>
<line x1="369.00" y1="76.60" x2="373.50" y2="76.60" stroke="#1b1b1b" stroke-width="1.3"/>
<text x="365.00" y="80.90" font-size="12.4" text-anchor="end" font-weight="normal" fill="#1b1b1b" stroke="#1b1b1b" stroke-width="0.25">1.5</text>
<line x1="369.00" y1="53.40" x2="373.50" y2="53.40" stroke="#1b1b1b" stroke-width="1.3"/>
<text x="365.00" y="57.70" font-size="12.4" text-anchor="end" font-weight="normal" fill="#1b1b1b" stroke="#1b1b1b" stroke-width="0.25">2.0</text>
<line x1="369.00" y1="30.20" x2="373.50" y2="30.20" stroke="#1b1b1b" stroke-width="1.3"/>
<text x="365.00" y="34.50" font-size="12.4" text-anchor="end" font-weight="normal" fill="#1b1b1b" stroke="#1b1b1b" stroke-width="0.25">2.5</text>
<line x1="371.00" y1="134.60" x2="373.50" y2="134.60" stroke="#1b1b1b" stroke-width="1.1"/>
<line x1="371.00" y1="111.40" x2="373.50" y2="111.40" stroke="#1b1b1b" stroke-width="1.1"/>
<line x1="371.00" y1="88.20" x2="373.50" y2="88.20" stroke="#1b1b1b" stroke-width="1.1"/>
<line x1="371.00" y1="65.00" x2="373.50" y2="65.00" stroke="#1b1b1b" stroke-width="1.1"/>
<line x1="371.00" y1="41.80" x2="373.50" y2="41.80" stroke="#1b1b1b" stroke-width="1.1"/>
<line x1="416.92" y1="146.20" x2="416.92" y2="151.20" stroke="#1b1b1b" stroke-width="1.3"/>
<text x="416.92" y="165.00" font-size="12.4" text-anchor="middle" font-weight="normal" fill="#1b1b1b" stroke="#1b1b1b" stroke-width="0.25">300</text>
<line x1="471.19" y1="146.20" x2="471.19" y2="151.20" stroke="#1b1b1b" stroke-width="1.3"/>
<text x="471.19" y="165.00" font-size="12.4" text-anchor="middle" font-weight="normal" fill="#1b1b1b" stroke="#1b1b1b" stroke-width="0.25">350</text>
<line x1="525.46" y1="146.20" x2="525.46" y2="151.20" stroke="#1b1b1b" stroke-width="1.3"/>
<text x="525.46" y="165.00" font-size="12.4" text-anchor="middle" font-weight="normal" fill="#1b1b1b" stroke="#1b1b1b" stroke-width="0.25">400</text>
<line x1="579.73" y1="146.20" x2="579.73" y2="151.20" stroke="#1b1b1b" stroke-width="1.3"/>
<text x="579.73" y="165.00" font-size="12.4" text-anchor="middle" font-weight="normal" fill="#1b1b1b" stroke="#1b1b1b" stroke-width="0.25">450</text>
<line x1="634.00" y1="146.20" x2="634.00" y2="151.20" stroke="#1b1b1b" stroke-width="1.3"/>
<text x="634.00" y="165.00" font-size="12.4" text-anchor="middle" font-weight="normal" fill="#1b1b1b" stroke="#1b1b1b" stroke-width="0.25">500</text>
<line x1="389.78" y1="146.20" x2="389.78" y2="148.70" stroke="#1b1b1b" stroke-width="1.1"/>
<line x1="444.05" y1="146.20" x2="444.05" y2="148.70" stroke="#1b1b1b" stroke-width="1.1"/>
<line x1="498.32" y1="146.20" x2="498.32" y2="148.70" stroke="#1b1b1b" stroke-width="1.1"/>
<line x1="552.59" y1="146.20" x2="552.59" y2="148.70" stroke="#1b1b1b" stroke-width="1.1"/>
<line x1="606.86" y1="146.20" x2="606.86" y2="148.70" stroke="#1b1b1b" stroke-width="1.1"/>
<text x="503.75" y="185.00" font-size="11.9" text-anchor="middle" font-weight="normal" fill="#1b1b1b" stroke="#1b1b1b" stroke-width="0.25">Wavelength [nm]</text>
<text x="338.30" y="79.40" font-size="11.8" text-anchor="middle" font-weight="normal" fill="#1b1b1b" stroke="#1b1b1b" stroke-width="0.25" transform="rotate(-90 338.3 79.4)">Absorbance</text>
<text x="329.50" y="17.00" font-size="21" text-anchor="start" font-weight="bold" fill="#111" letter-spacing="0.6">b)</text>
<line x1="390.30" y1="26.30" x2="402.30" y2="26.30" stroke="#36464e" stroke-width="1.5"/>
<text x="403.50" y="28.10" font-size="5" text-anchor="start" font-weight="normal" fill="#222" stroke="#222" stroke-width="0.12" letter-spacing="0.1">Initial</text>
<line x1="390.30" y1="32.42" x2="402.30" y2="32.42" stroke="#f0285e" stroke-width="1.5"/>
<text x="403.50" y="34.22" font-size="5" text-anchor="start" font-weight="normal" fill="#222" stroke="#222" stroke-width="0.12" letter-spacing="0.1">1 min</text>
<line x1="390.30" y1="38.54" x2="402.30" y2="38.54" stroke="#3a82de" stroke-width="1.5"/>
<text x="403.50" y="40.34" font-size="5" text-anchor="start" font-weight="normal" fill="#222" stroke="#222" stroke-width="0.12" letter-spacing="0.1">2 min</text>
<line x1="390.30" y1="44.66" x2="402.30" y2="44.66" stroke="#44e064" stroke-width="1.5"/>
<text x="403.50" y="46.46" font-size="5" text-anchor="start" font-weight="normal" fill="#222" stroke="#222" stroke-width="0.12" letter-spacing="0.1">3 min</text>
<line x1="390.30" y1="50.78" x2="402.30" y2="50.78" stroke="#a877e4" stroke-width="1.5"/>
<text x="403.50" y="52.58" font-size="5" text-anchor="start" font-weight="normal" fill="#222" stroke="#222" stroke-width="0.12" letter-spacing="0.1">4 min</text>
<line x1="390.30" y1="56.90" x2="402.30" y2="56.90" stroke="#dca64c" stroke-width="1.5"/>
<text x="403.50" y="58.70" font-size="5" text-anchor="start" font-weight="normal" fill="#222" stroke="#222" stroke-width="0.12" letter-spacing="0.1">5 min</text>
<line x1="390.30" y1="63.02" x2="402.30" y2="63.02" stroke="#66f090" stroke-width="1.5"/>
<text x="403.50" y="64.82" font-size="5" text-anchor="start" font-weight="normal" fill="#222" stroke="#222" stroke-width="0.12" letter-spacing="0.1">6 min</text>
<line x1="390.30" y1="69.14" x2="402.30" y2="69.14" stroke="#683a60" stroke-width="1.5"/>
<text x="403.50" y="70.94" font-size="5" text-anchor="start" font-weight="normal" fill="#222" stroke="#222" stroke-width="0.12" letter-spacing="0.1">7 min</text>
<line x1="390.30" y1="75.26" x2="402.30" y2="75.26" stroke="#6a9a32" stroke-width="1.5"/>
<text x="403.50" y="77.06" font-size="5" text-anchor="start" font-weight="normal" fill="#222" stroke="#222" stroke-width="0.12" letter-spacing="0.1">8 min</text>
<line x1="390.30" y1="81.38" x2="402.30" y2="81.38" stroke="#f25030" stroke-width="1.5"/>
<text x="403.50" y="83.18" font-size="5" text-anchor="start" font-weight="normal" fill="#222" stroke="#222" stroke-width="0.12" letter-spacing="0.1">9 min</text>
<line x1="390.30" y1="87.50" x2="402.30" y2="87.50" stroke="#86c8ee" stroke-width="1.5"/>
<text x="403.50" y="89.30" font-size="5" text-anchor="start" font-weight="normal" fill="#222" stroke="#222" stroke-width="0.12" letter-spacing="0.1">10 min</text>
<path d="M67.55,219.56 L89.30,278.13 L111.05,308.34 L132.80,320.10 L154.55,326.56 L176.30,329.00 L198.05,330.48 L219.80,331.40 L241.55,332.00 L263.30,332.00 L285.05,332.42" fill="none" stroke="#f0285e" stroke-width="1.2"/>
<path d="M67.55,219.56 L89.30,295.20 L111.05,317.80 L132.80,324.25 L154.55,330.48 L176.30,332.69 L198.05,332.79 L219.80,332.79 L241.55,333.02 L263.30,333.02 L285.05,330.89" fill="none" stroke="#36464e" stroke-width="1.2"/>
<circle cx="67.55" cy="219.56" r="1.6" fill="#111"/>
<circle cx="89.30" cy="295.20" r="1.6" fill="#111"/>
<circle cx="111.05" cy="317.80" r="1.6" fill="#111"/>
<circle cx="132.80" cy="324.25" r="1.6" fill="#111"/>
<circle cx="154.55" cy="330.48" r="1.6" fill="#111"/>
<circle cx="176.30" cy="332.69" r="1.6" fill="#111"/>
<circle cx="198.05" cy="332.79" r="1.6" fill="#111"/>
<circle cx="219.80" cy="332.79" r="1.6" fill="#111"/>
<circle cx="241.55" cy="333.02" r="1.6" fill="#111"/>
<circle cx="263.30" cy="333.02" r="1.6" fill="#111"/>
<circle cx="285.05" cy="330.89" r="1.6" fill="#111"/>
<circle cx="67.55" cy="219.56" r="1.6" fill="#f02d62"/>
<circle cx="89.30" cy="278.13" r="1.6" fill="#f02d62"/>
<circle cx="111.05" cy="308.34" r="1.6" fill="#f02d62"/>
<circle cx="132.80" cy="320.10" r="1.6" fill="#f02d62"/>
<circle cx="154.55" cy="326.56" r="1.6" fill="#f02d62"/>
<circle cx="176.30" cy="329.00" r="1.6" fill="#f02d62"/>
<circle cx="198.05" cy="330.48" r="1.6" fill="#f02d62"/>
<circle cx="219.80" cy="331.40" r="1.6" fill="#f02d62"/>
<circle cx="241.55" cy="332.00" r="1.6" fill="#f02d62"/>
<circle cx="263.30" cy="332.00" r="1.6" fill="#f02d62"/>
<circle cx="285.05" cy="332.42" r="1.6" fill="#f02d62"/>
<rect x="45.8" y="207.5" width="261.0" height="126.89999999999998" fill="none" stroke="#1b1b1b" stroke-width="1.5"/>
<line x1="41.30" y1="334.40" x2="45.80" y2="334.40" stroke="#1b1b1b" stroke-width="1.3"/>
<text x="38.30" y="338.70" font-size="12.4" text-anchor="end" font-weight="normal" fill="#1b1b1b" stroke="#1b1b1b" stroke-width="0.25">0.0</text>
<line x1="43.30" y1="322.87" x2="45.80" y2="322.87" stroke="#1b1b1b" stroke-width="1.1"/>
<line x1="41.30" y1="311.34" x2="45.80" y2="311.34" stroke="#1b1b1b" stroke-width="1.3"/>
<text x="38.30" y="315.64" font-size="12.4" text-anchor="end" font-weight="normal" fill="#1b1b1b" stroke="#1b1b1b" stroke-width="0.25">0.5</text>
<line x1="43.30" y1="299.81" x2="45.80" y2="299.81" stroke="#1b1b1b" stroke-width="1.1"/>
<line x1="41.30" y1="288.28" x2="45.80" y2="288.28" stroke="#1b1b1b" stroke-width="1.3"/>
<text x="38.30" y="292.58" font-size="12.4" text-anchor="end" font-weight="normal" fill="#1b1b1b" stroke="#1b1b1b" stroke-width="0.25">1.0</text>
<line x1="43.30" y1="276.75" x2="45.80" y2="276.75" stroke="#1b1b1b" stroke-width="1.1"/>
<line x1="41.30" y1="265.22" x2="45.80" y2="265.22" stroke="#1b1b1b" stroke-width="1.3"/>
<text x="38.30" y="269.52" font-size="12.4" text-anchor="end" font-weight="normal" fill="#1b1b1b" stroke="#1b1b1b" stroke-width="0.25">1.5</text>
<line x1="43.30" y1="253.69" x2="45.80" y2="253.69" stroke="#1b1b1b" stroke-width="1.1"/>
<line x1="41.30" y1="242.16" x2="45.80" y2="242.16" stroke="#1b1b1b" stroke-width="1.3"/>
<text x="38.30" y="246.46" font-size="12.4" text-anchor="end" font-weight="normal" fill="#1b1b1b" stroke="#1b1b1b" stroke-width="0.25">2.0</text>
<line x1="43.30" y1="230.63" x2="45.80" y2="230.63" stroke="#1b1b1b" stroke-width="1.1"/>
<line x1="41.30" y1="219.10" x2="45.80" y2="219.10" stroke="#1b1b1b" stroke-width="1.3"/>
<text x="38.30" y="223.40" font-size="12.4" text-anchor="end" font-weight="normal" fill="#1b1b1b" stroke="#1b1b1b" stroke-width="0.25">2.5</text>
<line x1="43.30" y1="207.57" x2="45.80" y2="207.57" stroke="#1b1b1b" stroke-width="1.1"/>
<line x1="67.55" y1="334.40" x2="67.55" y2="339.40" stroke="#1b1b1b" stroke-width="1.3"/>
<text x="67.55" y="352.50" font-size="12.4" text-anchor="middle" font-weight="normal" fill="#1b1b1b" stroke="#1b1b1b" stroke-width="0.25">0</text>
<line x1="111.05" y1="334.40" x2="111.05" y2="339.40" stroke="#1b1b1b" stroke-width="1.3"/>
<text x="111.05" y="352.50" font-size="12.4" text-anchor="middle" font-weight="normal" fill="#1b1b1b" stroke="#1b1b1b" stroke-width="0.25">2</text>
<line x1="154.55" y1="334.40" x2="154.55" y2="339.40" stroke="#1b1b1b" stroke-width="1.3"/>
<text x="154.55" y="352.50" font-size="12.4" text-anchor="middle" font-weight="normal" fill="#1b1b1b" stroke="#1b1b1b" stroke-width="0.25">4</text>
<line x1="198.05" y1="334.40" x2="198.05" y2="339.40" stroke="#1b1b1b" stroke-width="1.3"/>
<text x="198.05" y="352.50" font-size="12.4" text-anchor="middle" font-weight="normal" fill="#1b1b1b" stroke="#1b1b1b" stroke-width="0.25">6</text>
<line x1="241.55" y1="334.40" x2="241.55" y2="339.40" stroke="#1b1b1b" stroke-width="1.3"/>
<text x="241.55" y="352.50" font-size="12.4" text-anchor="middle" font-weight="normal" fill="#1b1b1b" stroke="#1b1b1b" stroke-width="0.25">8</text>
<line x1="285.05" y1="334.40" x2="285.05" y2="339.40" stroke="#1b1b1b" stroke-width="1.3"/>
<text x="285.05" y="352.50" font-size="12.4" text-anchor="middle" font-weight="normal" fill="#1b1b1b" stroke="#1b1b1b" stroke-width="0.25">10</text>
<line x1="89.30" y1="334.40" x2="89.30" y2="336.90" stroke="#1b1b1b" stroke-width="1.1"/>
<line x1="132.80" y1="334.40" x2="132.80" y2="336.90" stroke="#1b1b1b" stroke-width="1.1"/>
<line x1="176.30" y1="334.40" x2="176.30" y2="336.90" stroke="#1b1b1b" stroke-width="1.1"/>
<line x1="219.80" y1="334.40" x2="219.80" y2="336.90" stroke="#1b1b1b" stroke-width="1.1"/>
<line x1="263.30" y1="334.40" x2="263.30" y2="336.90" stroke="#1b1b1b" stroke-width="1.1"/>
<text x="176.30" y="373.20" font-size="11.8" text-anchor="middle" font-weight="normal" fill="#1b1b1b" stroke="#1b1b1b" stroke-width="0.25">Time [min]</text>
<text x="15.90" y="270.60" font-size="11.8" text-anchor="middle" font-weight="normal" fill="#1b1b1b" stroke="#1b1b1b" stroke-width="0.25" transform="rotate(-90 15.9 270.6)">Absorbance</text>
<text x="2.80" y="209.30" font-size="21" text-anchor="start" font-weight="bold" fill="#111" letter-spacing="0.6">c)</text>
<line x1="225.20" y1="220.70" x2="240.20" y2="220.70" stroke="#36464e" stroke-width="1.2"/>
<circle cx="232.8" cy="220.7" r="1.5" fill="#111"/>
<text x="242.00" y="223.30" font-size="7.0" text-anchor="start" font-weight="normal" fill="#1a1a1a" stroke="#1a1a1a" stroke-width="0.15">Au-SH-COF-1</text>
<line x1="225.20" y1="228.50" x2="240.20" y2="228.50" stroke="#f0285e" stroke-width="1.2"/>
<circle cx="232.8" cy="228.5" r="1.5" fill="#f02d62"/>
<text x="242.00" y="231.10" font-size="7.0" text-anchor="start" font-weight="normal" fill="#1a1a1a" stroke="#1a1a1a" stroke-width="0.15">Au-SH-COF-2</text>
<rect x="375.62" y="229.70" width="10.46" height="105.10" fill="#f8b893" stroke="#111" stroke-width="1.2"/>
<rect x="386.08" y="230.60" width="10.46" height="104.20" fill="#90ee7e" stroke="#111" stroke-width="1.2"/>
<rect x="401.78" y="230.60" width="10.46" height="104.20" fill="#f8b893" stroke="#111" stroke-width="1.2"/>
<rect x="412.24" y="229.50" width="10.46" height="105.30" fill="#90ee7e" stroke="#111" stroke-width="1.2"/>
<rect x="427.94" y="230.00" width="10.46" height="104.80" fill="#f8b893" stroke="#111" stroke-width="1.2"/>
<rect x="438.40" y="230.00" width="10.46" height="104.80" fill="#90ee7e" stroke="#111" stroke-width="1.2"/>
<rect x="454.10" y="230.20" width="10.46" height="104.60" fill="#f8b893" stroke="#111" stroke-width="1.2"/>
<rect x="464.56" y="230.00" width="10.46" height="104.80" fill="#90ee7e" stroke="#111" stroke-width="1.2"/>
<rect x="480.26" y="230.20" width="10.46" height="104.60" fill="#f8b893" stroke="#111" stroke-width="1.2"/>
<rect x="490.72" y="231.50" width="10.46" height="103.30" fill="#90ee7e" stroke="#111" stroke-width="1.2"/>
<rect x="506.42" y="236.00" width="10.46" height="98.80" fill="#f8b893" stroke="#111" stroke-width="1.2"/>
<rect x="516.88" y="232.30" width="10.46" height="102.50" fill="#90ee7e" stroke="#111" stroke-width="1.2"/>
<rect x="532.58" y="230.20" width="10.46" height="104.60" fill="#f8b893" stroke="#111" stroke-width="1.2"/>
<rect x="543.04" y="233.00" width="10.46" height="101.80" fill="#90ee7e" stroke="#111" stroke-width="1.2"/>
<rect x="558.74" y="231.30" width="10.46" height="103.50" fill="#f8b893" stroke="#111" stroke-width="1.2"/>
<rect x="569.20" y="230.20" width="10.46" height="104.60" fill="#90ee7e" stroke="#111" stroke-width="1.2"/>
<rect x="584.90" y="230.20" width="10.46" height="104.60" fill="#f8b893" stroke="#111" stroke-width="1.2"/>
<rect x="595.36" y="231.70" width="10.46" height="103.10" fill="#90ee7e" stroke="#111" stroke-width="1.2"/>
<rect x="611.06" y="230.60" width="10.46" height="104.20" fill="#f8b893" stroke="#111" stroke-width="1.2"/>
<rect x="621.52" y="231.90" width="10.46" height="102.90" fill="#90ee7e" stroke="#111" stroke-width="1.2"/>
<rect x="373.0" y="207.8" width="261.6" height="127.0" fill="none" stroke="#1b1b1b" stroke-width="1.5"/>
<line x1="368.50" y1="334.80" x2="373.00" y2="334.80" stroke="#1b1b1b" stroke-width="1.3"/>
<text x="364.80" y="339.10" font-size="12.4" text-anchor="end" font-weight="normal" fill="#1b1b1b" stroke="#1b1b1b" stroke-width="0.25">0</text>
<line x1="368.50" y1="313.42" x2="373.00" y2="313.42" stroke="#1b1b1b" stroke-width="1.3"/>
<text x="364.80" y="317.72" font-size="12.4" text-anchor="end" font-weight="normal" fill="#1b1b1b" stroke="#1b1b1b" stroke-width="0.25">20</text>
<line x1="368.50" y1="292.04" x2="373.00" y2="292.04" stroke="#1b1b1b" stroke-width="1.3"/>
<text x="364.80" y="296.34" font-size="12.4" text-anchor="end" font-weight="normal" fill="#1b1b1b" stroke="#1b1b1b" stroke-width="0.25">40</text>
<line x1="368.50" y1="270.66" x2="373.00" y2="270.66" stroke="#1b1b1b" stroke-width="1.3"/>
<text x="364.80" y="274.96" font-size="12.4" text-anchor="end" font-weight="normal" fill="#1b1b1b" stroke="#1b1b1b" stroke-width="0.25">60</text>
<line x1="368.50" y1="249.28" x2="373.00" y2="249.28" stroke="#1b1b1b" stroke-width="1.3"/>
<text x="364.80" y="253.58" font-size="12.4" text-anchor="end" font-weight="normal" fill="#1b1b1b" stroke="#1b1b1b" stroke-width="0.25">80</text>
<line x1="368.50" y1="227.90" x2="373.00" y2="227.90" stroke="#1b1b1b" stroke-width="1.3"/>
<text x="364.80" y="232.20" font-size="12.4" text-anchor="end" font-weight="normal" fill="#1b1b1b" stroke="#1b1b1b" stroke-width="0.25">100</text>
<line x1="370.50" y1="324.11" x2="373.00" y2="324.11" stroke="#1b1b1b" stroke-width="1.1"/>
<line x1="370.50" y1="302.73" x2="373.00" y2="302.73" stroke="#1b1b1b" stroke-width="1.1"/>
<line x1="370.50" y1="281.35" x2="373.00" y2="281.35" stroke="#1b1b1b" stroke-width="1.1"/>
<line x1="370.50" y1="259.97" x2="373.00" y2="259.97" stroke="#1b1b1b" stroke-width="1.1"/>
<line x1="370.50" y1="238.59" x2="373.00" y2="238.59" stroke="#1b1b1b" stroke-width="1.1"/>
<line x1="370.50" y1="217.21" x2="373.00" y2="217.21" stroke="#1b1b1b" stroke-width="1.1"/>
<line x1="386.08" y1="334.80" x2="386.08" y2="339.80" stroke="#1b1b1b" stroke-width="1.3"/>
<text x="386.08" y="352.70" font-size="12.4" text-anchor="middle" font-weight="normal" fill="#1b1b1b" stroke="#1b1b1b" stroke-width="0.25">1</text>
<line x1="412.24" y1="334.80" x2="412.24" y2="339.80" stroke="#1b1b1b" stroke-width="1.3"/>
<text x="412.24" y="352.70" font-size="12.4" text-anchor="middle" font-weight="normal" fill="#1b1b1b" stroke="#1b1b1b" stroke-width="0.25">2</text>
<line x1="438.40" y1="334.80" x2="438.40" y2="339.80" stroke="#1b1b1b" stroke-width="1.3"/>
<text x="438.40" y="352.70" font-size="12.4" text-anchor="middle" font-weight="normal" fill="#1b1b1b" stroke="#1b1b1b" stroke-width="0.25">3</text>
<line x1="464.56" y1="334.80" x2="464.56" y2="339.80" stroke="#1b1b1b" stroke-width="1.3"/>
<text x="464.56" y="352.70" font-size="12.4" text-anchor="middle" font-weight="normal" fill="#1b1b1b" stroke="#1b1b1b" stroke-width="0.25">4</text>
<line x1="490.72" y1="334.80" x2="490.72" y2="339.80" stroke="#1b1b1b" stroke-width="1.3"/>
<text x="490.72" y="352.70" font-size="12.4" text-anchor="middle" font-weight="normal" fill="#1b1b1b" stroke="#1b1b1b" stroke-width="0.25">5</text>
<line x1="516.88" y1="334.80" x2="516.88" y2="339.80" stroke="#1b1b1b" stroke-width="1.3"/>
<text x="516.88" y="352.70" font-size="12.4" text-anchor="middle" font-weight="normal" fill="#1b1b1b" stroke="#1b1b1b" stroke-width="0.25">6</text>
<line x1="543.04" y1="334.80" x2="543.04" y2="339.80" stroke="#1b1b1b" stroke-width="1.3"/>
<text x="543.04" y="352.70" font-size="12.4" text-anchor="middle" font-weight="normal" fill="#1b1b1b" stroke="#1b1b1b" stroke-width="0.25">7</text>
<line x1="569.20" y1="334.80" x2="569.20" y2="339.80" stroke="#1b1b1b" stroke-width="1.3"/>
<text x="569.20" y="352.70" font-size="12.4" text-anchor="middle" font-weight="normal" fill="#1b1b1b" stroke="#1b1b1b" stroke-width="0.25">8</text>
<line x1="595.36" y1="334.80" x2="595.36" y2="339.80" stroke="#1b1b1b" stroke-width="1.3"/>
<text x="595.36" y="352.70" font-size="12.4" text-anchor="middle" font-weight="normal" fill="#1b1b1b" stroke="#1b1b1b" stroke-width="0.25">9</text>
<line x1="621.52" y1="334.80" x2="621.52" y2="339.80" stroke="#1b1b1b" stroke-width="1.3"/>
<text x="621.52" y="352.70" font-size="12.4" text-anchor="middle" font-weight="normal" fill="#1b1b1b" stroke="#1b1b1b" stroke-width="0.25">10</text>
<line x1="399.16" y1="334.80" x2="399.16" y2="337.30" stroke="#1b1b1b" stroke-width="1.1"/>
<line x1="425.32" y1="334.80" x2="425.32" y2="337.30" stroke="#1b1b1b" stroke-width="1.1"/>
<line x1="451.48" y1="334.80" x2="451.48" y2="337.30" stroke="#1b1b1b" stroke-width="1.1"/>
<line x1="477.64" y1="334.80" x2="477.64" y2="337.30" stroke="#1b1b1b" stroke-width="1.1"/>
<line x1="503.80" y1="334.80" x2="503.80" y2="337.30" stroke="#1b1b1b" stroke-width="1.1"/>
<line x1="529.96" y1="334.80" x2="529.96" y2="337.30" stroke="#1b1b1b" stroke-width="1.1"/>
<line x1="556.12" y1="334.80" x2="556.12" y2="337.30" stroke="#1b1b1b" stroke-width="1.1"/>
<line x1="582.28" y1="334.80" x2="582.28" y2="337.30" stroke="#1b1b1b" stroke-width="1.1"/>
<line x1="608.44" y1="334.80" x2="608.44" y2="337.30" stroke="#1b1b1b" stroke-width="1.1"/>
<text x="503.80" y="372.60" font-size="11.6" text-anchor="middle" font-weight="normal" fill="#1b1b1b" stroke="#1b1b1b" stroke-width="0.25">Cycle</text>
<text x="339.80" y="271.00" font-size="12" text-anchor="middle" font-weight="normal" fill="#1b1b1b" stroke="#1b1b1b" stroke-width="0.25" transform="rotate(-90 339.8 271.0)">Conversion [%]</text>
<text x="329.50" y="203.60" font-size="21" text-anchor="start" font-weight="bold" fill="#111">d)</text>
<rect x="579.5" y="212.30" width="10.8" height="5.0" fill="#f8b893" stroke="#111" stroke-width="0.9"/>
<text x="592.00" y="216.60" font-size="4.9" text-anchor="start" font-weight="normal" fill="#222" stroke="#222" stroke-width="0.12">Au-SH-COF-1</text>
<rect x="579.5" y="218.20" width="10.8" height="5.0" fill="#90ee7e" stroke="#111" stroke-width="0.9"/>
<text x="592.00" y="222.50" font-size="4.9" text-anchor="start" font-weight="normal" fill="#222" stroke="#222" stroke-width="0.12">Au-SH-COF-2</text>
</svg></body></html>
